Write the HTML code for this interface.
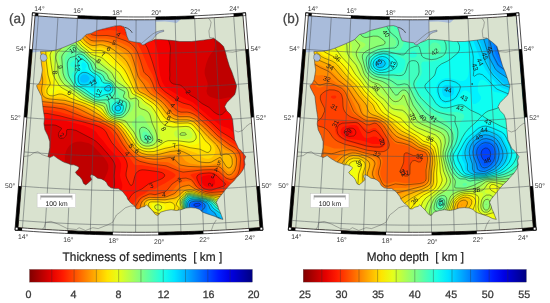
<!DOCTYPE html>
<html><head><meta charset="utf-8"><style>
html,body{margin:0;padding:0;background:#fff;width:550px;height:303px;overflow:hidden}
svg{display:block;font-family:"Liberation Sans",Arial,sans-serif;text-rendering:geometricPrecision}
</style></head><body>
<svg width="550" height="303" viewBox="0 0 550 303">
<rect width="550" height="303" fill="#fff"/>
<clipPath id="clipa"><path d="M35.02 15.73 L37.56 15.92 L42.89 16.32 L48.22 16.69 L53.55 17.05 L58.89 17.38 L64.22 17.69 L69.56 17.98 L74.9 18.25 L80.23 18.49 L85.57 18.72 L90.91 18.92 L96.25 19.1 L101.6 19.26 L106.94 19.4 L112.28 19.52 L117.62 19.62 L122.97 19.69 L128.31 19.75 L133.66 19.78 L139 19.79 L144.34 19.78 L149.69 19.75 L155.03 19.69 L160.38 19.62 L165.72 19.52 L171.06 19.4 L176.4 19.26 L181.75 19.1 L187.09 18.92 L192.43 18.72 L197.77 18.49 L203.1 18.25 L208.44 17.98 L213.78 17.69 L219.11 17.38 L224.45 17.05 L229.78 16.69 L235.11 16.32 L240.44 15.92 L242.98 15.73 L260 227.57 L256.62 227.83 L250.44 228.29 L244.25 228.72 L238.07 229.13 L231.89 229.52 L225.7 229.88 L219.51 230.21 L213.33 230.52 L207.14 230.81 L200.95 231.07 L194.75 231.31 L188.56 231.52 L182.37 231.7 L176.17 231.86 L169.98 232 L163.78 232.11 L157.59 232.2 L151.39 232.26 L145.2 232.3 L139 232.31 L132.8 232.3 L126.61 232.26 L120.41 232.2 L114.22 232.11 L108.02 232 L101.83 231.86 L95.63 231.7 L89.44 231.52 L83.25 231.31 L77.05 231.07 L70.86 230.81 L64.67 230.52 L58.49 230.21 L52.3 229.88 L46.11 229.52 L39.93 229.13 L33.75 228.72 L27.56 228.29 L21.38 227.83 L18 227.57Z"/></clipPath>
<g clip-path="url(#clipa)">
<rect x="0" y="0" width="550" height="303" fill="#8c0000"/>
<path d="M252 226.9 31 226.3 30.7 226 30.3 97 30.3 21 31 20.3 59 20.3 248.5 21 252 25.3 252.9 226 252 226.9Z" fill="#a60000" fill-rule="evenodd"/>
<path d="M252 226.8 31 226.1 30.3 94 30.4 21 31 20.4 59 20.3 224.2 21 227.7 24 232 28.5 236 33.6 239.4 39 242.5 45 247.3 58 252 76.6 252.8 226 252 226.8Z" fill="#bf0000" fill-rule="evenodd"/>
<path d="M252 226.8 188 226.8 73.7 226 80 219.1 85 212.6 90 205 97 193.1 103 182 107 173.2 108.3 169 108.3 165 107 161.7 104 157.5 93 145.7 89 143.3 81 141.6 77 141.7 74 142.6 70 145 68.3 147 66.5 150 65.2 154 64.8 158 65.1 164 64.7 166 63.7 168 62 169.9 58 172.4 55 173.2 52 173.3 49 172.8 45 171.3 42 169.6 38.6 167 31 159.1 30.4 94 30.5 21 31 20.5 59 20.4 182.5 21 193.1 25 199.9 28 205.2 31 210 34.7 212.1 37 214 40 214.9 43 215 46 214.1 50 210 55 207.9 59 206.1 64 204.7 70 204.6 73 204.9 75 207.6 83 207.7 85 206.5 91 207.1 94 208.9 96 210.6 97 217 99.1 221 99.1 228 97.6 233 97.2 236 97.4 239 98.4 242 100.4 245 104 247.5 109 249.3 115 252 129.7 252.8 226 252 226.8Z" fill="#d90000" fill-rule="evenodd"/>
<path d="M252 226.7 189 226.8 97.8 226 101 220.2 104 213.6 114.2 187 114.6 184 114.2 176 115.2 167 114.7 164 113.3 161 108.8 155 100 145 97 142.1 93 139.3 77 130.8 72 129.4 69 129.2 67 129.6 66.6 130 66.6 134 65.8 136 63.7 138 61 138.6 59 137.5 58.3 135 59 132.2 61.5 129 61.4 128 56 125.3 53 124.9 45.2 125 36 127.3 31 127.9 30.5 93 30.6 21 31 20.6 59 20.5 149.9 21 159.1 28 163 32 166.7 37 168.8 41 170 45 170.5 50 170 55 169.7 70 169.9 75 169.6 78 170 80.8 171 82.5 173.5 84 180 85 182 86.1 190 95 195 97.8 202 103.5 209 107.4 213.9 112 216.9 114 219 114.8 221 114.8 223 113.6 227 109.8 228 109.4 230 109.5 232 110.4 235 113.2 238.6 119 243.3 132 249.4 143 252 148.8 252.7 226 252 226.7Z" fill="#f20000" fill-rule="evenodd"/>
<path d="M252 226.7 191 226.7 111.1 226 116 210.9 122.3 187 122.2 184 120.4 178 120 175 121.1 167 121.1 164 120.1 161 118.9 159 107.8 147 103 140.5 98.9 136 96 131.7 92.3 129 84 125.6 66 121.1 59 119.8 46 118 31 118.8 30.6 91 30.7 21 31 20.7 59 20.6 131.3 21 140.2 27 147 32.6 152.7 39 154.5 42 156.1 46 158.2 55 158.7 65 160 75 162.2 82 164.5 86 168 89.1 179.4 96 193 102.4 209.7 117 219 124.3 223 126.6 228 128.1 230 129.2 242 141.3 246.1 147 247.6 150 248.9 154 250.5 166 252 170.8 252.7 226 252 226.7ZM211.9 187 214.3 185 215.1 183 215 180 213.2 177 211 175.5 209 175 203.5 176 201.5 177 200.9 178 201 180.3 202.1 183 204 185.6 207 187.3 210 187.5 211.9 187Z" fill="#ff0d00" fill-rule="evenodd"/>
<path d="M252 226.7 192 226.7 120.5 226 123.5 213 125.3 207 129 198.6 132 194.5 135 192.2 142 188.9 150 183 162 178.6 164.1 177 164.7 176 164.7 175 162.8 173 160 172 145 169.9 142 169.8 140 170.2 138 171.2 136 173.3 134.9 176 133 183.4 132 185.2 131 185.4 130 184.8 127 178.8 126.1 176 126.1 173 127.4 166 127 163 126 160 123 155.3 112.1 143 108.5 137 106.1 132 103.5 129 100 127 95 125 60 115.9 47 113.4 31 113 30.7 89 30.8 21 59 20.7 90.9 21 95 23.6 99 24.4 103 24.1 112 22.6 117 22.8 120 23.6 122.7 25 135 33.5 139 36.7 143.7 42 147.4 48 152.4 62 158.9 84 160 86.4 161.9 89 165 91.7 178.4 101 183 103.1 190 105 192 106.3 211.7 123 221 131.8 229 136.6 238 143.2 241 146.1 243.2 149 245 153 245.8 157 246 169 246.7 175 248.3 178 250 179.5 252 180.5 252.7 226 252 226.7ZM211.7 190 224 186.1 225.2 185 225.3 184 224.9 183 221.2 180 217 175.7 214.2 174 212 173.2 209 172.9 203 173.4 200 173.9 197.8 175 196.7 177 197 179 198.8 183 200.8 186 203.1 188 205 189.1 209 190 211.7 190Z" fill="#ff2600" fill-rule="evenodd"/>
<path d="M252 226.6 193 226.7 128 226 129.1 215 130.6 209 133 204 137.6 198 140 196 144 193.9 149 190.6 150 190.1 155 189.1 159 186.2 165 183.3 173.3 178 175.3 176 175.5 175 174.9 174 172.1 172 168 170.1 164 168.8 141 165.1 135 164.9 133.8 164 129.9 158 122 148 111.5 132 108.7 129 104 125.8 96.5 123 83 119.3 60 111.9 49.9 110 37 109.3 31 108.2 30.9 21 83.9 21 91 28.6 94 30.5 97 31.1 110 30 116 30.5 121.1 34 130 37.7 135 41.3 138 44.8 140.5 49 148.2 67 152.6 75 156.9 87 159.5 91 179 106.8 182 108 190 109.5 196 112.9 210 125 220 135 236 145.5 238.8 148 240.4 150 242.3 154 243.1 159 242.2 171 240.3 180 240.4 182 241.1 183 243.1 184 252 186 252.6 226 252 226.6ZM214.3 191 225 189.3 228 188.5 231 187 232 186 232.4 185 232.1 184 224 179 218 173.5 214 171.7 209 171.2 200 171.9 191.7 174 190.2 175 194 179.2 198.3 186 202 189 204 190.1 207.1 191 211 191.4 214.3 191Z" fill="#ff4000" fill-rule="evenodd"/>
<path d="M233 179.1 230 179.4 227 178.6 224.5 177 219 171.7 215 170 211 169.7 203 169.9 183 172.1 179 171 166 165.8 150 163.8 139 161 135 158.4 127.7 151 122.6 144 117.4 135 113.6 130 111.2 128 106 124.9 99 121.9 83.6 117 64 109.2 54 107.4 38 106.1 34 105.1 31 103.7 31 21.1 78.4 21 83 25.2 89.5 33 92 34.8 96 35.6 106 35.4 113 36.5 125 40.5 131 43.8 134.3 47 137.3 52 140.2 60 143.8 72 145 73.5 148.2 76 150 78.2 152.5 83 154.5 89 156.6 92 166.6 100 175 108.8 178 111.2 181 112.2 187 112.1 190 112.6 193 113.8 196 115.6 207.9 126 218 136 230 145 235 147.9 238 150.9 239.7 154 240.6 158 240.6 161 239.6 169 238.5 173 237 175.7 235 178 233 179.1ZM252 226.6 194 226.6 134.4 226 133.8 217 134 212 134.9 208 136.7 204 139.2 200 142 197.4 149 194.1 151 194 155 194.7 164.8 192 167.3 190 171.1 185 175 182 179 179.6 182 178.4 186 178.1 190 179.1 192 180.3 196 186 199.8 189 203.6 191 207.1 192 212 192.4 218 191.8 226 191.5 240 189.4 252 190 252.6 226 252 226.6Z" fill="#ff5900" fill-rule="evenodd"/>
<path d="M230 177.1 228 177 226 176 220 170 217 168.4 214 168.1 188 168.9 182 168.6 178 167.5 171 163.5 168 162.3 165 161.9 151 161.3 146 160.4 141 158.9 137 156.7 130 150.4 124.5 143 119 133.6 115.3 129 113 127 100 120.5 85 115 74.6 110 66 106.8 55 105 40 103.6 36 102.2 33 100.4 31 98.6 31 28.8 36 24.3 41.6 21 72.3 21 76 23.1 79.7 26 83 29.4 88 35.6 91 37.7 95 38.5 105 38.5 111 39.6 122 43.2 129 47.1 132.8 51 135 55 137.5 63 140.1 75 141.8 77 146.8 81 149 83.5 149.9 85 151.4 90 153.7 93 164.2 101 173 110.9 176 113.3 180 115 187 114.6 190 115 193 116.1 196 117.9 206.2 127 217 137.5 227.7 146 234 149.9 236.1 152 237.7 155 238.6 159 238.4 163 237.4 169 236.2 172 234.1 175 232 176.6 230 177.1ZM252 226.5 195 226.6 140.5 226 137.8 216 137.4 212 137.6 209 138.3 206 140 202 141.4 200 144 198 148 196.2 150 195.8 155 196.5 166 195.2 172 191.4 176.4 186 180 183 186 181.3 189 181.2 191 182.1 193.7 186 197.6 189 203.9 192 208 193 211 193.3 218 193 227 193.4 242 192.7 252 193.2 252.5 226 252 226.5Z" fill="#ff7300" fill-rule="evenodd"/>
<path d="M229 175 227 174.4 221 167.9 218 166.2 200 166.9 188 166.4 180 164.9 174.3 159 171 157.6 169 157.5 160 159 155 159.2 148 158.6 142 157 137 154.3 132 150 126.6 143 120 132.3 116.5 128 114 125.9 108 123.2 100 118.9 93 116 81.2 110 74.2 107 64 104 43 101.7 40.3 101 38 99.8 35 97 33.1 94 31.7 90 31 86.1 31 38.9 33.6 34 36.1 31 39.6 28 43 25.8 47 23.9 51 22.7 56 21.8 61 21.6 65 22 71 23.8 77 27.1 81 30.7 87 37.7 90.2 40 93 40.9 103 40.8 109 41.9 120 46 127 50.2 130 52.8 132 56 138.4 77 143.6 84 146.4 89 149.8 93 158 98.6 162 101.8 165.1 105 170.6 112 174.5 115 177 116.1 180 116.8 187 116.6 190 116.9 195 119.2 198 121.6 215 138.1 225.4 147 232 150.9 234.3 153 235.9 156 236.6 159 236.5 163 235.9 167 234.8 170 233 172.7 231 174.4 229 175ZM252 226.5 196 226.6 146.8 226 142.1 217 140.9 214 140.1 210 140.4 206 141.3 203 142.4 201 144 199.5 147 197.9 150 197.2 156 197.6 166 197 174 193.8 176.2 192 179 188.5 181 187.1 188 185.1 190 185.6 195.3 189 201.8 192 209 193.9 218 194.2 227 195.2 242 195.3 252 196.1 252.5 226 252 226.5Z" fill="#ff8c00" fill-rule="evenodd"/>
<path d="M231 171 229 171.8 227 171.1 221 164.3 219 163.3 216 163.4 209 165 200 165 190 163.4 185.5 161 182.2 157 180 155 177 154.2 170 153.9 161 156.2 155 157 148 156.6 142 155.1 137 152.3 133 148.8 127.9 142 121 131.3 117.4 127 115 125 108 122.1 100 117.2 95 115 84.7 109 75 105 64 102.1 46 100.2 43 99.4 41 98.3 38.4 95 36.9 90 36.8 78 35.4 66 34.3 50 34.3 46 34.8 43 35.9 40 37.5 37 40 34 43 31.4 50 27.5 54.8 26 59 25.3 63 25.2 67 25.6 72 27.1 77 30 80.4 33 86.7 40 90 42.4 94 43.3 102 42.8 107 43.8 114.7 47 122.8 52 127 55.2 129 58 131.2 63 136.4 78 140 85 140.6 88 141.8 90 150 95.8 156 99.3 159.5 102 163.3 106 169 113.4 172.2 116 176 117.7 179 118.4 187 118.3 190 118.7 193 119.8 194.9 121 203.3 129 210 136 219 144 223 148.4 225.2 150 230 152.1 232.4 154 233.7 156 234.3 158 234.6 163 233.4 168 231 171ZM252 226.5 196 226.5 153.4 226 151.2 222 146 216.4 144 213.5 142.4 209 142.3 205 142.9 203 144.2 201 148 198.8 151 198.3 156 198.7 165 198.5 174 196.3 177 194.8 182 190 185 188.8 189 188.4 192 188.7 202.4 193 210 194.7 217 195.1 227 196.7 242 197.6 252 198.8 252.5 226 252 226.5Z" fill="#ffa600" fill-rule="evenodd"/>
<path d="M229 168 228 167.8 226 166.2 221 158.1 220 157.2 211.4 162 209 162.6 206 162.6 201 162.1 197.7 161 194.4 159 189.9 155 183.8 152 180 150.8 177 150.7 170 151.6 159 154.3 154 155 147 154.7 142 153.4 138 151.3 134 147.9 129.6 142 123 131.8 118 126 115.2 124 107 120.5 100 115.5 91.1 110 84 106.4 75 103.2 65 100.4 49 98.9 46 98 44.2 97 42.6 95 41.6 91 41.7 88 42.6 83 42.7 79 40.2 65 39.7 57 38.7 49 39.1 44 41 39.9 43 37.4 45.7 35 49 32.8 53 30.8 60 28.6 64 28.3 67 28.5 72 29.8 77 32.5 80 35.1 86 41.8 90 44.7 92 45.4 94 45.6 100 44.7 103 45.1 108.4 47 113.9 50 123.7 58 127 62.1 130 68 136.2 84 137.7 89 138.9 91 140.1 92 145 94.3 156.8 102 160.9 106 167.8 115 171 117.4 174.5 119 178 119.9 187 119.8 190 120.3 193 121.5 195.1 123 208 136.6 216.7 145 219.6 150 220.4 153 220.4 155 221 155.7 223 154.6 226 154.1 229 154.6 230.8 156 232.1 159 232.3 164 231 167.1 229 168ZM252 226.4 197 226.5 159.5 226 158.6 223 157 220.6 155.2 219 149 214.8 146 211.3 144.4 208 144.2 204 145 202.1 146 201.1 149 199.7 151 199.4 165 199.8 175 198 178 196.3 184 190.8 186 190.2 190 189.7 193 190.2 203.6 194 209 195.2 217 196 226 198.1 242 199.7 252 201.2 252.4 226 252 226.4Z" fill="#ffbf00" fill-rule="evenodd"/>
<path d="M211 158 208 159 205 158.6 203 157.7 199.9 155 195.9 153 183 148.4 180 147.7 176 148.1 154 153.2 147 153.2 142 151.9 138 149.7 135 147 124 131 119 125.4 116 123.4 110 121.1 107 119.4 100 113.6 93.3 109 85 105 69.5 100 64 97.8 61 97.4 52 97.6 49 97.1 47 96.2 45.3 94 44.8 91 44.9 89 46.6 84 46.8 82 45 70 44.9 65 43.6 60 42.5 50 42.7 46 44 42.9 46 40.5 48.9 38 56 33.6 62 31.5 68 31.2 73 32.5 77 34.7 80 37.4 85 43.1 88 45.5 91 47.3 94 48 100 47.2 102 47.4 106.2 49 111 51.7 122 61.9 126 66.8 128.3 71 131.3 78 135.8 90 137.4 92 144 95.5 155.5 103 159.3 107 166 116 169 118.4 173 120.3 177 121.4 180 121.6 187 121.4 190 121.8 193 123.2 196.1 126 206.5 138 212.8 144 214.7 147 215.4 150 214.9 153 213.3 156 211 158ZM252 226.4 198 226.5 164.8 226 164.6 223 163.3 220 159.3 217 152 213.5 150 212 146.9 208 146.1 206 146.1 204 147.2 202 150 200.6 165 201.1 170 200.3 175 200.2 177 199.1 185 191.6 189 190.6 192 190.8 204 194.7 210 196 216 196.7 224 199.1 242 201.7 252 203.6 252.4 226 252 226.4Z" fill="#ffd900" fill-rule="evenodd"/>
<path d="M209 152.1 207 152.5 200 149.2 190 147.7 180 145 177 145.4 171 147.1 165 148.3 154 151.5 148 151.8 143 150.8 139 148.9 135.8 146 125.5 131 120.2 125 117.2 123 111 120.6 107.9 119 100 111.5 95.1 108 86 103.9 70.2 98 66 95.6 62 94.1 59 94 53 95.9 50 95.7 48.5 95 47 93 46.9 90 47.7 88 50 85 50.3 83 48 75 46 59 45.8 50 46.1 48 47 45.8 49 43.5 53.1 40 59 35.9 64.1 34 67 33.6 70 33.8 74 35 77 36.8 84.9 45 92 50 95 50.7 100 50.4 102 50.7 105 51.8 108 53.5 110 55 122 66.9 124.5 70 126.8 74 135 92 143 96.4 154 103.9 157.8 108 164.1 117 168 120.2 175 122.7 179 123.2 188 122.9 191 123.7 193 125.1 200.1 133 205 140.5 210 145.1 210.8 147 210.8 149 210.1 151 209 152.1ZM252 226.3 199 226.5 169.1 226 171.4 215 171 214.1 165 214.7 162 214.6 154 212.1 152.2 211 150.5 209 148.7 206 148.4 204 149 202.9 150 202.1 151 201.9 159 201.9 165 202.8 170 202.1 171 202.4 172.5 203 174.8 205 174.8 208 173 212 174 212.6 177 211.4 179.1 209 179 207.7 176.5 205 176.3 204 177.5 201 179.8 198 185 192.6 188 191.5 192 191.5 203.1 195 216 197.6 224 200.4 241 203.4 252 205.9 252.3 226 252 226.3Z" fill="#fff200" fill-rule="evenodd"/>
<path d="M152 150.2 148 150.3 145 150 142 149.1 139 147.3 135.7 144 128.6 133 122 125 118 122.3 111 119.7 108 118.1 100.7 110 96.3 107 79 100 67 93 60 90 57 89.9 54 93 52 93.9 50 93.7 49.1 93 48.7 92 49.1 90 51 88.3 54.2 87 54.9 86 54.9 85 50.1 75 48 57 48.1 53 48.9 50 50.1 48 58 40.4 61.3 38 65 36.4 69 35.9 73 36.5 77.4 39 82.8 45 92 52.4 95 53.3 101 53.9 105.4 56 108 58.1 112.6 63 119.7 69 122.4 72 130 85 132.7 91 134 93 141.6 97 152.7 105 156.1 109 161.9 118 164 120.4 168 122.7 175 124.7 179 125 187 124.5 190 125 192.8 127 195.5 130 198.3 134 199.7 137 200.1 140 199.6 142 198 143.5 195 144.7 190 145 181 143.1 177 143.1 170 145 165 145.7 156 149.2 152 150.2ZM252 226.3 200 226.4 172.5 226 175.1 219 180 211.2 180.9 209 181 208 179.4 205 178.8 203 179.6 200 185 193.5 187 192.4 190 192 193 192.4 203 195.5 214 197.8 224 201.6 239.9 205 252 208.2 252.3 226 252 226.3ZM163 211.3 160 212 155 210.7 154 210 152.4 208 151.5 205 152.3 204 153 203.7 157 203.1 160 203.4 163 204.5 164.9 206 165.2 207 164.4 210 163 211.3Z" fill="#f2ff0d" fill-rule="evenodd"/>
<path d="M154 148.1 150 148.9 146 148.8 143 148.1 140 146.6 136.6 143 131.8 135 128.9 131 124.9 126 122 123.3 119.7 122 112 119.3 109 117.8 106.1 115 102 109.1 100 107.5 95 105 80 99 73 93.9 62.2 88 59.5 86 55.1 79 52.7 74 51.1 64 50 55 51 52.2 52.4 50 60.5 42 64 39.6 68 38.1 72 38.1 76 39.7 78 41.3 81.9 46 87.1 50 91 53.9 93 55 100 56.9 103 58.5 110 65 117.4 71 120.1 74 124.4 81 129 86.6 132 92.9 132.9 94 140.9 98 145 102 151.1 106 154.8 111 160.4 121 164 124.8 167 126.2 173 127.1 186 126.4 189 126.8 191 128 193 130 195 133 195.9 135 196.3 137 195.9 139 194 141 192 141.8 189 142.2 177 140.7 168 140.7 165 141.7 158.5 146 154 148.1ZM252 226.2 201 226.4 175.3 226 177.2 220 181 211.6 181.8 209 181.9 208 180 203 180.6 200 185.4 194 187 193.1 190 192.6 192 192.8 203 196 213 198.1 222 202.2 240 206.8 252 210.5 252 226.2ZM159 210.2 157 209.9 155.6 209 154.5 207 155 205.6 156 205 158 204.7 159.6 205 161.2 206 161.7 207 161.3 209 160 209.9 159 210.2Z" fill="#d9ff26" fill-rule="evenodd"/>
<path d="M152 147 149 147.5 146 147.4 143 146.7 141 145.7 138.2 143 132.4 133 124.3 123 121 121.3 113 118.9 110 117.5 107.2 115 103.1 108 102 107 92 103 81.2 98 74.9 93 64 86.6 61 84 57.8 79 55.8 74 55.2 71 54.9 65 53.3 60 52.9 56 53.4 54 55.1 51 62.1 44 66 41.2 69 40.1 73 40 76 41.3 78 43.1 80.1 46 86.5 51 90.1 55 100 60.2 113 70.7 115.9 74 119.5 80 128 87.9 129.2 90 131.1 95 132.4 96 137 97.2 139.9 99 143.1 104 148 106.9 150 108.6 153.4 114 158.7 127 159.6 130 160.5 138 159.9 141 158.5 143 156 145.2 152 147ZM189 139.1 186 139.3 182.2 139 177 137.7 175.8 137 174.3 135 174.1 133 174.4 132 175.3 131 177 130.1 181.4 129 186 128.7 189 129.6 191.4 132 192.6 135 192 137.3 191 138.3 189 139.1ZM252 226.2 203 226.4 177.6 226 182.4 209 182.2 207 180.9 203 181 201 182 199 185.2 195 187 193.7 189 193.2 192 193.4 213 198.7 221 203 238.3 208 252 212.8 252 226.2Z" fill="#bfff40" fill-rule="evenodd"/>
<path d="M149 146.1 146 146.1 144 145.6 142 144.7 140 143.1 137.9 140 133.9 132 129.1 126 126 121.4 124 120.5 114 118.4 110 116.6 107.5 114 104.3 107 103.4 106 93 102.4 83 97.5 75.8 92 65 85 63 83 60.3 79 58.6 75 58 72 57.6 65 56 59 55.8 57 56.4 54 57.6 52 64 45.6 67.6 43 71 41.7 74 41.9 76 42.8 80 47.5 86 51.9 90 56.3 97 61 110.8 72 112.3 74 114.3 78 117.2 82 125 87.2 127 89 128.4 92 128.9 97 130 98.7 131 99 135 98 137 98.9 138.2 100 138.8 102 138.5 105 139 107.1 141 108.6 145 110 146.8 111 148.8 113 150 115 152.1 123 155.3 130 156.9 135 157.4 139 156.4 142 155 143.6 153 145 149 146.1ZM185 135.2 181 135.3 180.2 135 179.9 134 180.9 133 182 132.7 185 132.8 186.4 134 185.7 135 185 135.2ZM252 226.2 204 226.3 179.6 226 183 209 181.6 203 181.8 201 182.7 199 185.9 195 187 194.2 189 193.7 192 194 213 199.3 218 202.6 221 204.1 238 209.6 252 215.2 252 226.2Z" fill="#a6ff59" fill-rule="evenodd"/>
<path d="M124 118.3 121 118.7 118 118.5 114 117.5 110.6 116 109.3 115 108 113 104.9 105 103 104.1 94 101.9 84 96.6 72 88.1 64.9 82 62.3 78 60.7 74 60 65 58.6 57 58.9 55 59.9 53 66 47.1 70 44.3 72 43.4 74 43.4 76 44.4 79 48.2 85 52.4 89 56.7 94.2 61 99 66.6 105 70 107.7 72 110 75 110.9 78 114 80.9 117 84.9 124 88.6 126 90.2 126.8 92 126.3 96 126.4 97 127.1 98 130 100.8 133.3 102 134 103 133.1 108 131.6 111 126.1 117 124 118.3ZM151 144.1 148 144.7 145 144.5 143 143.7 141 142.1 139.1 139 135.7 130 132 124.8 131.7 123 132 122 139 115.4 141 115.2 142.6 116 144 117.3 147.6 124 151.8 130 154 134.5 154.9 137 154.9 140 154 142 153 143 151 144.1ZM252 226.1 206 226.3 181.4 226 183.4 210 183.4 208 182.2 203 182.4 201 183.4 199 186 195.6 187 194.8 189 194.2 192 194.5 212 199.6 214 200.5 217 202.9 220 204.7 237.2 211 252 217.7 252 226.1Z" fill="#8cff73" fill-rule="evenodd"/>
<path d="M122 117.3 120 117.6 117 117.4 114 116.6 111 115.2 109 113 107.8 110 106.5 105 105 103.3 95 101.4 85.2 96 80 92 73.6 88 66 80 64.3 77 63 73 61.7 57 62.4 55 63.8 53 66.7 50 71.4 46 73 45.2 75 45.4 79 50 85 53.7 93.1 62 94.5 64 96.2 68 97.5 69 103 71.1 105.8 73 107.3 75 109 79 113 81.7 116 86.1 119 88.7 123.9 91 124.8 92 124.7 93 123.4 96 123.5 97 124 98 127 99.7 128.3 101 129.6 103 130 106 129.3 109 127.8 112 124.3 116 122 117.3ZM149 143.1 146 143.2 144 142.5 142.1 141 141 139.3 140.3 137 139.5 131 139.9 129 141 127.7 142 127.3 144 127.2 147 128.7 149.2 131 152.2 136 152.9 139 152.4 141 151 142.3 149 143.1ZM252 226.1 183.1 226 183.9 210 182.8 203 183 201 184 199 186 196.4 187 195.4 189 194.7 191 194.9 200 196.9 211 199.7 213.7 201 217 203.9 220 205.8 235.5 212 252 220.4 252 226.1Z" fill="#73ff8c" fill-rule="evenodd"/>
<path d="M121 116.3 117 116.5 112 114.7 111 114 109.6 112 108.6 109 107.6 104 106 102 104 101.4 97 101 93.8 100 74 87 67.8 79 66.3 76 65.3 72 64.8 62 64.9 59 65.5 57 67.4 54 73 48.9 74 48.6 76.7 51 82 53 85 55 92.1 63 95 69.9 101 72.1 104.1 74 105 75 106.7 79 111.8 82 113 83.2 116.5 89 118.5 95 119.8 97 122.2 99 126 100.4 127 101.2 127.9 103 128.1 105 127 110 126 112 124 114.5 121 116.3ZM149 141.2 146 141.4 144 140.4 143 139.3 142.1 136 142.2 134 143.1 132 144 131.5 146 131.7 148 133.2 149 134.6 150.4 137 150.8 139 150.5 140 149 141.2ZM252 226 184.8 226 184.4 210 183.3 203 183.6 201 186.1 197 187.1 196 189 195.3 200 197.3 210.3 200 213 201.3 217 205 219 206.3 235.9 214 252 223.2 252 226Z" fill="#59ffa6" fill-rule="evenodd"/>
<path d="M121 115.2 119 115.6 116 115.3 113 114.1 111.6 113 110 110 109.1 103 108 100.2 106 99.8 99 100.2 95 99.6 74.5 86 69.2 77 68.2 74 67.3 66 67.3 63 68.2 60 70 57.6 75 56.2 78 54.2 79 53.9 81 54.2 83 55.1 85 56.8 90.5 63 92.8 69 94 70.6 101.2 74 103.2 76 105.1 80 110 82 112 83.2 114.7 88 115.2 91 114.5 94 111.9 98 114 99 117 98.3 118 98.4 121 100.1 125 101.5 125.7 102 126.2 103 126.4 106 125.2 111 123 114 121 115.2ZM147 139.2 146 139.1 145 138.2 144.6 137 145 135.6 146 135.2 147 135.5 148.2 137 148 138.6 147 139.2ZM251 226 186.5 226 183.9 203 184.2 201 186.8 197 188 196.1 189 195.8 200 197.7 208.9 200 212.9 202 218 206.8 234.3 215 251.5 226 251 226Z" fill="#40ffbf" fill-rule="evenodd"/>
<path d="M99 99 96 98.7 94.4 98 84 90.6 77 86.7 75 85 74.4 84 71.6 75 72.2 73 74.8 70 74.7 69 74 68 71 66.4 70.2 65 70.9 63 71.9 62 79 56.4 81 56.1 84 57.7 89 63 91.2 69 92.6 71 100 75 101.7 77 104 81.1 105 81.7 110.4 83 111.7 84 112.9 86 113.7 88 113.9 90 113.5 92 112 94.1 110 95.5 107 96.8 101 98.7 99 99ZM121 114 119 114.6 116 114.3 113.3 113 112 111.6 110.9 109 110.9 106 111.9 103 113.1 102 116 100.6 118 100.1 123 102.6 124.4 104 124.8 107 124.3 110 123 112.4 121 114ZM246 226 188.2 226 186.5 218 184.5 204 184.8 201 187 197.6 188 196.8 190 196.4 200 198.1 209 200.6 212 202.2 216 206.5 218 208 227.8 213 232.8 216 246.9 226 246 226Z" fill="#26ffd9" fill-rule="evenodd"/>
<path d="M99 97.1 97 97.1 95 96.4 89.6 93 85 89.4 78 86.1 76 84 75.1 81 74.7 76 75.4 74 78.1 70 78.4 68 77.7 63 78.4 61 80 59.4 81 59 83 59.4 86.5 62 88 64 89.4 69 90.8 71 93 72.8 96 74.2 98.7 76 100.3 78 102 81.5 103 82.6 105 83.2 108 83.2 110 83.6 111 84.3 112.1 86 112.8 88 112.9 90 112 92 111 93 109 94 104 95 99 97.1ZM120 113.2 117 113.4 115 112.7 113.1 111 112.2 109 112.2 107 113 105 115 103.1 117 102 119 102.2 121 103.2 122.9 105 123.3 106 123.3 109 122.6 111 122 112 120 113.2ZM242 226 190.1 226 186.7 214 185 204 185.4 201 188 197.6 190 197 200 198.5 208.7 201 211.8 203 216.3 208 229.8 216 242.6 226 242 226Z" fill="#0dfff2" fill-rule="evenodd"/>
<path d="M94 92 91 91 88.7 89 87 88 80 85.9 78.6 85 77.1 83 76.5 79 76.8 76 78.5 73 82.5 69 81.5 66 81.4 64 82 62.8 83 62.3 85 62.9 86.5 65 86.4 67 85 69 91 73.1 96.2 76 97.9 78 98.9 80 99.9 85 96.4 87 95.9 88 95.5 91 95 91.9 94 92ZM110 92 107 92.7 103 91.2 101.5 89 100.8 87 101 86 107 84.4 110 84.5 111.2 86 111.9 89 111.3 91 110 92ZM119 112.3 116 111.9 114.8 111 113.7 109 113.7 107 114.2 106 115.1 105 117 103.8 118 103.6 120 104.3 121 105.1 122.1 107 121.8 110 121 111.2 119 112.3ZM238 226 192.3 226 189 218.6 187 212 186 208 185.6 204 186 201 188 198.5 190 197.7 200 199 208 201.3 210.7 203 215 208.3 228.3 217 238.6 226 238 226Z" fill="#00f2ff" fill-rule="evenodd"/>
<path d="M85 85 82 84.9 80 84.1 79 83 78.2 81 78.1 78 79 75.3 81 73.2 83 72.4 86 72.5 88 73.2 93.9 77 95 79 95 80 94.3 81 92.9 82 88 84.5 85 85ZM109 91 107.4 91 106 90.5 105.1 90 104.6 89 104.7 88 105.3 87 108 85.5 109 85.4 110 85.9 110.8 88 110.5 90 109 91ZM120 110.2 118 111 115.8 110 115.1 108 116 106.2 118 105.3 120 106.2 120.8 108 120 110.2ZM234 226 194.9 226 190 217.7 188 212.9 186.6 208 186.3 205 186.2 203 186.8 201 188.6 199 191 198.4 200 199.4 208 201.9 210.4 204 213 208 225.5 217 234.6 226 234 226Z" fill="#00d9ff" fill-rule="evenodd"/>
<path d="M86 82.4 84 82.8 82 82.6 81 82 80.4 81 80 79 80.4 77 81 75.9 83 74.5 85 74.2 87 74.9 88.3 76 89.6 78 89.1 80 88 81.2 86 82.4ZM118 108.9 117.3 108 118 107.5 118.6 108 118 108.9ZM230 226 198.5 226 192 218.3 189 213.2 187 206.5 186.9 203 187.7 201 189 199.7 192 199.1 200 199.8 207 202.1 209.2 204 212.2 209 223.7 218 230.6 226 230 226Z" fill="#00bfff" fill-rule="evenodd"/>
<path d="M225 226 205.5 226 203.1 224 195 218.6 191 214.5 190 213 188 208 187.6 204 188 202 189 200.8 191 199.9 197 200 201 200.6 207 203 208.5 205 210.1 209 212 210.9 214.9 213 217 217 219.8 218 221 219.1 225.7 226 225 226Z" fill="#00a6ff" fill-rule="evenodd"/>
<path d="M202 216.2 199 216.9 196 216.2 193 214.3 191 212.2 189 208.4 188.5 206 188.7 203 190 201.3 193 200.5 200 200.8 203.2 202 206.4 204 207.2 206 207.4 212 207 212.9 205 213.3 202 216.2ZM210 214.1 209 214.6 207.8 214 207.1 213 208 212.6 209 212.8 209.5 213 210 214.1Z" fill="#008cff" fill-rule="evenodd"/>
<path d="M197 213.1 195 212.8 193 211.8 191 209.7 190 208 189.5 206 189.6 204 190 202.9 191 202 195 201.2 200 201.4 203.3 203 205.1 205 205 207 203.7 209 199 212.6 197 213.1Z" fill="#0073ff" fill-rule="evenodd"/>
<path d="M198 209.1 195 209.5 193 208.8 192 208.1 191 206.2 190.9 205 191.1 204 192 203 195 202 198 201.9 200 202.1 201.6 203 203 205 202.9 206 202 207.1 198 209.1Z" fill="#0059ff" fill-rule="evenodd"/>
<path d="M199 206 196 206.5 194.4 206 193.7 205 194.3 204 195 203.7 199 203.2 200.2 204 200.3 205 199 206Z" fill="#0040ff" fill-rule="evenodd"/>
<path d="M223 20 228.7 25 233.3 30 237.6 36 241.5 43 244.6 50 247 57 253 80.5M148.3 20 156 25.4 162.1 31 166.7 37 169.2 42 170.2 46 170.5 49 170 55 169.7 70 169.9 75 169.6 79 170.1 81 171 82.5 173.5 84 180 85 182 86.1 190 95 195 97.8 202 103.5 209 107.4 213.9 112 217 114 219 114.8 221 114.8 222.5 114 226 110.6 228 109.4 230 109.5 233 111.2 236 114.4 238 117.7 242.8 131 250.4 145 253 151.7M97.2 227 101 220.2 104 213.6 114.2 187 114.6 184 114.2 176 115.1 166 114.3 163 112.6 160 107.9 154 100.9 146 96 141.3 93 139.3 76 130.4 71 129.3 67 129.6 66.6 130 66.6 134 65.8 136 63.7 138 61 138.6 59 137.5 58.3 135 59 132.2 61.5 129 61.4 128 56 125.3 53 124.9 45.2 125 36 127.3 30 128M89.8 20 94 23.1 98 24.3 102 24.2 113 22.6 116 22.6 119 23.2 123 25.2 135 33.5 140 37.7 144.5 43 147.4 48 152.4 62 158.9 84 161.1 88 165 91.7 178 100.8 183 103.1 190 105 192 106.3 211.7 123 221 131.8 230 137.3 237 142.4 240 145 243.7 150 245.5 155 246 159 246 170 247 175.8 249 178.8 253 180.9M120.3 227 125 208 128 200.6 131 195.7 134 192.8 141.8 189 149 183.6 160 179.6 163 178 164.7 176 164.7 175 164.1 174 162 172.6 159 171.8 145 169.9 142 169.8 140 170.2 138 171.2 136 173.3 134.9 176 133 183.4 132 185.2 131 185.4 130 184.8 127 178.8 126.1 176 126.1 173 127.4 166 127 163 126 160 123 155.3 112.1 143 108.5 137 106.1 132 103.5 129 100 127 95 125 60 115.9 47 113.4 35 113.3 30 112.8M211.7 190 224 186.1 225.2 185 225.3 184 224.9 183 221.2 180 217 175.7 214.2 174 212 173.2 209 172.9 203 173.4 200 173.9 197.8 175 196.7 177 197 179 198.8 183 200.8 186 203.1 188 205 189.1 209 190 211.7 190ZM77.1 20 82 24.2 89 32.5 92 34.8 97 35.7 107 35.5 114 36.7 126 40.9 129.9 43 132.4 45 135 48 137.3 52 140.2 60 143.8 72 145 73.5 148.2 76 150 78.2 152.5 83 154.5 89 156.6 92 166.6 100 175 108.8 178 111.2 181 112.2 187 112.1 190 112.6 193 113.8 196 115.6 207.9 126 218 136 230 145 235 147.9 237.3 150 239.7 154 240.7 159 239.6 169 238 174.1 236 177 234 178.7 232 179.3 230 179.4 226 178.1 219 171.7 215 170 211 169.7 203 169.9 183 172.1 179 171 166 165.8 150 163.8 140 161.4 136 159.3 127.7 151 122.6 144 117.4 135 113.6 130 111.2 128 105 124.4 98 121.5 83.6 117 64 109.2 54 107.4 38 106.1 34 105.1 30 103.2M134.5 227 133.8 217 134.2 211 135.7 206 140 199 142.7 197 149 194.1 151 194 155 194.7 165 191.9 167.3 190 172.1 184 177 180.7 182 178.4 186 178.1 191 179.6 193 181.4 196 186 198.3 188 203.6 191 208 192.1 212 192.4 227 191.4 240 189.4 253 190.1M30 41.9 31.4 38 34 33.5 37.1 30 41 27 46 24.4 51 22.7 57 21.7 62 21.7 69 23 73 24.7 76 26.4 81 30.7 87.4 38 91 40.4 94 41 103 40.8 108 41.6 117.8 45 125 48.8 129 51.8 131.5 55 133.7 61 138 76.2 139.7 79 143.6 84 146.4 89 148.8 92 150.9 94 158 98.6 162 101.8 165.1 105 170.6 112 174 114.7 179 116.7 187 116.6 190 116.9 195 119.2 204.7 128 212.6 136 225 146.7 233 151.7 235.5 155 236.6 159 236.3 165 234.8 170 233 172.7 231.6 174 230 174.8 228 174.9 226 173.5 221 167.9 218 166.2 200 166.9 188 166.4 180 164.9 174.3 159 171 157.6 169 157.5 160 159 154 159.2 146 158.2 140 156.2 135 152.8 131.1 149 126.6 143 120 132.3 116.5 128 114 125.9 108 123.2 100 118.9 93 116 81.2 110 74.2 107 64 104 42 101.5 39 100.4 37 99 33.7 95 31.7 90 30.9 85 30 70.8M147.1 227 145.9 224 142 216.9 140.4 212 140.1 209 140.4 206 141.3 203 142.4 201 145 198.9 149 197.3 156 197.6 165 197.2 167 196.6 174 193.8 176 192.2 179.6 188 183 186.4 189 185.1 195.3 189 201.8 192 205 193.1 210 194.1 218 194.2 228 195.2 243 195.4 253 196.2M229 168 228 167.8 226 166.2 221 158.1 220 157.2 211.4 162 209 162.6 206 162.6 201 162.1 197.7 161 194.4 159 189.9 155 183.8 152 180 150.8 177 150.7 170 151.6 159 154.3 154 155 147 154.7 142 153.4 138 151.3 134 147.9 129.6 142 123 131.8 118 126 115.2 124 107 120.5 100 115.5 91.1 110 84 106.4 75 103.2 65 100.4 49 98.9 46 98 44.2 97 42.6 95 41.6 91 41.7 88 42.6 83 42.7 79 40.2 65 39.7 57 38.7 49 39.1 44 41 39.9 43 37.4 45.7 35 49 32.8 53 30.8 60 28.6 64 28.3 67 28.5 72 29.8 77 32.5 80 35.1 86 41.8 90 44.7 92 45.4 94 45.6 100 44.7 103 45.1 108.4 47 113.9 50 123.7 58 127 62.1 130 68 136.2 84 137.7 89 138.9 91 140.1 92 145 94.3 156.8 102 160.9 106 167.8 115 171 117.4 174.5 119 178 119.9 187 119.8 190 120.3 193 121.5 195.1 123 208 136.6 216.7 145 219.6 150 220.4 153 220.4 155 221 155.7 223 154.6 226 154.1 229 154.6 230.8 156 232.1 159 232.3 164 231 167.1 229 168ZM159.6 227 159.1 224 157.3 221 155.2 219 149 214.8 147 212.7 145 209.5 144.1 206 144.5 203 146 201.1 148 200 151 199.4 165 199.8 174 198.3 176 197.6 178 196.3 184 190.8 186 190.2 190 189.7 193 190.2 203.6 194 209 195.2 217 196 226 198.1 242 199.7 253 201.4M209 152.1 207 152.5 200 149.2 190 147.7 180 145 177 145.4 171 147.1 165 148.3 154 151.5 148 151.8 143 150.8 139 148.9 135.8 146 125.5 131 120.2 125 117.2 123 111 120.6 107.9 119 100 111.5 95.1 108 86 103.9 70.2 98 66 95.6 62 94.1 59 94 53 95.9 50 95.7 48.5 95 47 93 46.9 90 47.7 88 50 85 50.3 83 48 75 46 59 45.8 50 46.1 48 47 45.8 49 43.5 53.1 40 59 35.9 64.1 34 67 33.6 70 33.8 74 35 77 36.8 84.9 45 92 50 95 50.7 100 50.4 102 50.7 105 51.8 108 53.5 110 55 122 66.9 124.5 70 126.8 74 135 92 143 96.4 154 103.9 157.8 108 164.1 117 168 120.2 175 122.7 179 123.2 188 122.9 191 123.7 193 125.1 200.1 133 205 140.5 210 145.1 210.8 147 210.8 149 210.1 151 209 152.1ZM168.9 227 171.4 215 171 214.1 165 214.7 162 214.6 154 212.1 151.3 210 148.7 206 148.4 204 149 202.9 150 202.1 152 201.9 159 201.9 165 202.8 170 202.1 171 202.4 172.5 203 174.8 205 174.8 208 173 212 174 212.6 177 211.4 179.1 209 179 207.7 176.5 205 176.3 204 178.2 200 185 192.6 187 191.7 190 191.3 193 191.8 203.1 195 215 197.3 224 200.4 241 203.4 253 206.2M154 148.1 150 148.9 146 148.8 143 148.1 140 146.6 136.6 143 131.8 135 128.9 131 124.9 126 122 123.3 119.7 122 112 119.3 109 117.8 106.1 115 102 109.1 100 107.5 95 105 80 99 73 93.9 62.2 88 59.5 86 55.1 79 52.7 74 51.1 64 50 55 51 52.2 52.4 50 60.5 42 64 39.6 68 38.1 72 38.1 76 39.7 78 41.3 81.9 46 87.1 50 91 53.9 93 55 100 56.9 103 58.5 110 65 117.4 71 120.1 74 124.4 81 129 86.6 132 92.9 132.9 94 140.9 98 145 102 151.1 106 154.8 111 160.4 121 164 124.8 167 126.2 173 127.1 186 126.4 189 126.8 191 128 193 130 195 133 195.9 135 196.3 137 195.9 139 194 141 192 141.8 189 142.2 177 140.7 168 140.7 165 141.7 158.5 146 154 148.1ZM175 227 177.2 220 181 211.6 181.8 209 181.9 208 180.2 204 180.2 201 181.2 199 185 194.3 188 192.8 192 192.8 203 196 213 198.1 222 202.2 240 206.8 253 210.9M159 210.2 157 209.9 155.6 209 154.5 207 155 205.6 156 205 158 204.7 159.6 205 161.2 206 161.7 207 161.3 209 160 209.9 159 210.2ZM149 146.1 146 146.1 144 145.6 142 144.7 140 143.1 137.9 140 133.9 132 129.1 126 126 121.4 124 120.5 114 118.4 110 116.6 107.5 114 104.3 107 103.4 106 93 102.4 83 97.5 75.8 92 65 85 63 83 60.3 79 58.6 75 58 72 57.6 65 56 59 55.8 57 56.4 54 57.6 52 64 45.6 67.6 43 71 41.7 74 41.9 76 42.8 80 47.5 86 51.9 90 56.3 97 61 110.8 72 112.3 74 114.3 78 117.2 82 125 87.2 127 89 128.4 92 128.9 97 130 98.7 131 99 135 98 137 98.9 138.2 100 138.8 102 138.5 105 139 107.1 141 108.6 145 110 146.8 111 148.8 113 150 115 152.1 123 155.3 130 156.9 135 157.4 139 156.4 142 155 143.6 153 145 149 146.1ZM185 135.2 181 135.3 180.2 135 179.9 134 180.9 133 182 132.7 185 132.8 186.4 134 185.7 135 185 135.2ZM179.4 227 183 209 181.6 203 181.8 201 182.7 199 185.9 195 187 194.2 189 193.7 192 194 212 199 214.4 200 218 202.6 221 204.1 238 209.6 253 215.7M122 117.3 120 117.6 117 117.4 114 116.6 111 115.2 109 113 107.8 110 106.5 105 105 103.3 95 101.4 85.2 96 80 92 73.6 88 66 80 64.3 77 63 73 61.7 57 62.4 55 63.8 53 66.7 50 71.4 46 73 45.2 75 45.4 79 50 85 53.7 93.1 62 94.5 64 96.2 68 97.5 69 103 71.1 105.8 73 107.3 75 109 79 113 81.7 116 86.1 119 88.7 123.9 91 124.8 92 124.7 93 123.4 96 123.5 97 124 98 127 99.7 128.3 101 129.6 103 130 106 129.3 109 127.8 112 124.3 116 122 117.3ZM149 143.1 146 143.2 144 142.5 142.1 141 141 139.3 140.3 137 139.5 131 139.9 129 141 127.7 142 127.3 144 127.2 147 128.7 149.2 131 152.2 136 152.9 139 152.4 141 151 142.3 149 143.1ZM183.1 227 183.9 210 182.8 202 183.4 200 186 196.4 187 195.4 189 194.7 191 194.9 200 196.9 211.7 200 213.7 201 217 203.9 220 205.8 235.5 212 253 220.9M121 115.2 119 115.6 116 115.3 113 114.1 111.6 113 110 110 109.1 103 108 100.2 106 99.8 99 100.2 95 99.6 74.5 86 69.2 77 68.2 74 67.3 66 67.3 63 68.2 60 70 57.6 75 56.2 78 54.2 79 53.9 81 54.2 83 55.1 85 56.8 90.5 63 92.8 69 94 70.6 101.2 74 103.2 76 105.1 80 110 82 112 83.2 114.7 88 115.2 91 114.5 94 111.9 98 114 99 117 98.3 118 98.4 121 100.1 125 101.5 125.7 102 126.2 103 126.4 106 125.2 111 123 114 121 115.2ZM147 139.2 146 139.1 145 138.2 144.6 137 145 135.6 146 135.2 147 135.5 148.2 137 148 138.6 147 139.2ZM186.6 227 183.9 202 184.6 200 187 196.8 188 196.1 190 195.8 205.4 199 211.2 201 213 202 218 206.8 234.3 215 253 227M99 97.1 97 97.1 95 96.4 89.6 93 85 89.4 78 86.1 76 84 75.1 81 74.7 76 75.4 74 78.1 70 78.4 68 77.7 63 78.4 61 80 59.4 81 59 83 59.4 86.5 62 88 64 89.4 69 90.8 71 93 72.8 96 74.2 98.7 76 100.3 78 102 81.5 103 82.6 105 83.2 108 83.2 110 83.6 111 84.3 112.1 86 112.8 88 112.9 90 112 92 111 93 109 94 104 95 99 97.1ZM120 113.2 117 113.4 115 112.7 113.1 111 112.2 109 112.2 107 113 105 115 103.1 117 102 119 102.2 121 103.2 122.9 105 123.3 106 123.3 109 122.6 111 122 112 120 113.2ZM190.5 227 187 215.5 185 203 185.4 201 187 198.5 188 197.6 190 197 201 198.8 207 200.3 210 201.7 211.8 203 216.3 208 229.8 216 243.8 227M85 85 82 84.9 80 84.1 79 83 78.2 81 78.1 78 79 75.3 81 73.2 83 72.4 86 72.5 88 73.2 93.9 77 95 79 95 80 94.3 81 92.9 82 88 84.5 85 85ZM109 91 107.4 91 106 90.5 105.1 90 104.6 89 104.7 88 105.3 87 108 85.5 109 85.4 110 85.9 110.8 88 110.5 90 109 91ZM120 110.2 118 111 115.8 110 115.1 108 116 106.2 118 105.3 120 106.2 120.8 108 120 110.2ZM195.5 227 189 215.6 186.6 208 186.2 204 186.4 202 188 199.4 190 198.5 200 199.4 208.2 202 210.4 204 213 208 214 208.9 225.5 217 235.6 227M206.4 227 203.1 224 195 218.6 191 214.5 189 210.8 187.8 207 187.7 203 189 200.8 190 200.2 192 199.8 199 200.2 202.4 201 207 203 208.5 205 210.1 209 212 210.9 214.9 213 217 217 219.8 218 221 219.1 226.3 227M197 213.1 195 212.8 193 211.8 191 209.7 190 208 189.5 206 189.6 204 190 202.9 191 202 195 201.2 200 201.4 203.3 203 205.1 205 205 207 203.7 209 199 212.6 197 213.1ZM199 206 196 206.5 194.4 206 193.7 205 194.3 204 195 203.7 199 203.2 200.2 204 200.3 205 199 206Z" fill="none" stroke="#1a1008" stroke-width="0.55" stroke-opacity="0.8"/>
<path d="M30.62 10.56 L37.93 11.14 L43.24 11.53 L48.55 11.9 L53.86 12.26 L59.18 12.59 L64.49 12.9 L69.81 13.19 L75.13 13.45 L80.45 13.7 L85.77 13.92 L91.09 14.12 L96.41 14.31 L101.73 14.47 L107.05 14.6 L112.38 14.72 L117.7 14.82 L123.03 14.89 L128.35 14.95 L133.68 14.98 L139 14.99 L144.32 14.98 L149.65 14.95 L154.97 14.89 L160.3 14.82 L165.62 14.72 L170.95 14.6 L176.27 14.47 L181.59 14.31 L186.91 14.12 L192.23 13.92 L197.55 13.7 L202.87 13.45 L208.19 13.19 L213.51 12.9 L218.82 12.59 L224.14 12.26 L229.45 11.9 L234.76 11.53 L240.07 11.14 L247.38 10.56 L265.17 231.97 L256.98 232.62 L250.78 233.08 L244.58 233.51 L238.38 233.92 L232.18 234.31 L225.97 234.67 L219.77 235.01 L213.56 235.32 L207.35 235.6 L201.14 235.87 L194.93 236.1 L188.72 236.31 L182.5 236.5 L176.29 236.66 L170.08 236.8 L163.86 236.91 L157.65 237 L151.43 237.06 L145.22 237.1 L139 237.11 L132.78 237.1 L126.57 237.06 L120.35 237 L114.14 236.91 L107.92 236.8 L101.71 236.66 L95.5 236.5 L89.28 236.31 L83.07 236.1 L76.86 235.87 L70.65 235.6 L64.44 235.32 L58.23 235.01 L52.03 234.67 L45.82 234.31 L39.62 233.92 L33.42 233.51 L27.22 233.08 L21.02 232.62 L12.83 231.97Z M40.5 51.5 L49.8 51.2 L55 50.2 L60 48.8 L65 46.8 L72.9 43.5 L80.9 39.8 L86.1 34.5 L91.4 33.2 L96.7 30.6 L104.6 28.6 L115.2 25.9 L120.3 25.6 L124.2 26.9 L125.6 30.9 L126.9 36.1 L128.9 40.8 L134.8 42.1 L140.1 42.7 L143.4 44.7 L146.7 42.7 L152 40.8 L154.6 39.4 L159.9 39.4 L167.8 40.1 L175 40.8 L179.9 41.5 L191.5 41.5 L203 40.2 L211.3 39 L213.7 38.2 L217 40.7 L220.3 43.2 L223.6 46.5 L225.3 51.4 L226.9 58 L229.4 66.3 L231.9 72 L233.6 77 L236.6 85.8 L235.6 91.8 L234.6 94.8 L230.6 98.7 L226.7 102.7 L224.7 106.6 L226.7 110.6 L230.6 114.6 L232.6 119.5 L233.1 125 L233.6 129.9 L234.6 139.8 L238.6 148.7 L241 150.5 L243.7 154 L245.7 156.6 L244.3 160.6 L245 164.5 L243.7 168.5 L241.7 171.8 L239.1 175.1 L236.4 177.7 L233.8 181 L229.5 185 L226 189 L222.5 193.5 L220.8 195.6 L217.8 199.3 L216.3 202.3 L217.8 206 L218.6 209 L220.1 212 L221.5 215.7 L223 219.4 L219.3 218.6 L214.9 216.4 L210.4 214.9 L205.9 213.4 L202.2 212 L199.8 209.5 L195.8 208 L190.9 207.6 L185.9 208 L181.1 209.7 L176.2 210.5 L171.2 209.7 L166.3 210.5 L160.5 212.2 L158.8 214.7 L157.2 215.5 L154.7 213.8 L153 211.4 L151.4 209.7 L148.9 207.2 L146.5 204.8 L144.8 206.4 L141.5 207.2 L139 208.9 L136.6 208.9 L134.9 206.4 L133.3 204.8 L130.8 203.1 L127.5 199 L126.9 196.9 L122.6 191.5 L118.3 188.6 L115 188.6 L111 187.8 L108 185.6 L106.5 182.6 L104.3 180.4 L101.4 178.9 L97.6 178.2 L94.7 176 L91.7 174.5 L90.2 176 L91.7 179.7 L88.7 182.6 L85.8 184.9 L83.5 183.4 L82.1 179.7 L79.8 176.7 L76.9 174.5 L75.4 172.3 L78.4 169.3 L79.1 167.8 L77.6 166.3 L73.9 164.8 L70.9 164.8 L68 163.4 L65 162.6 L62.7 161.6 L57.8 158.6 L53.8 155.6 L49.8 157.6 L47.9 156.6 L48.8 152.7 L49.8 147.7 L49.8 141.7 L47.9 135.8 L44.9 129.8 L43.9 123.9 L44.5 118 L44 114.6 L43.2 109.6 L42.4 103 L41.6 96.4 L39.1 91.5 L37.4 88.2 L36.6 85.7 L39.1 83.2 L40.7 79.9 L41.6 75 L42.4 70 L41.6 65 L41.2 61.1 L41.2 55Z" fill="#d9e2cf" fill-rule="evenodd"/>
<path d="M20 0 L157 0 L155.8 17 L155.8 31.5 L153.5 33.5 L141.2 43.8 L140.1 42.7 L134.8 42.1 L128.9 40.8 L126.9 36.1 L125.6 30.9 L124.2 26.9 L120.3 25.6 L115.2 25.9 L104.6 28.6 L96.7 30.6 L91.4 33.2 L86.1 34.5 L80.9 39.8 L72.9 43.5 L65 46.8 L60 48.8 L55 50.2 L49.8 51.2 L40.5 51.5 L36 52.2 L20 52.5Z M155.8 16 L181 16 L179.5 20.5 L176.5 23 L172 22.3 L165 21.4 L155.8 21.8Z" fill="#a9bcdb"/>
<path d="M40.5 51.5 L49.8 51.2 L55 50.2 L60 48.8 L65 46.8 L72.9 43.5 L80.9 39.8 L86.1 34.5 L91.4 33.2 L96.7 30.6 L104.6 28.6 L115.2 25.9 L120.3 25.6 L124.2 26.9 L125.6 30.9 L126.9 36.1 L128.9 40.8 L134.8 42.1 L140.1 42.7 L143.4 44.7 L146.7 42.7 L152 40.8 L154.6 39.4 L159.9 39.4 L167.8 40.1 L175 40.8 L179.9 41.5 L191.5 41.5 L203 40.2 L211.3 39 L213.7 38.2 L217 40.7 L220.3 43.2 L223.6 46.5 L225.3 51.4 L226.9 58 L229.4 66.3 L231.9 72 L233.6 77 L236.6 85.8 L235.6 91.8 L234.6 94.8 L230.6 98.7 L226.7 102.7 L224.7 106.6 L226.7 110.6 L230.6 114.6 L232.6 119.5 L233.1 125 L233.6 129.9 L234.6 139.8 L238.6 148.7 L241 150.5 L243.7 154 L245.7 156.6 L244.3 160.6 L245 164.5 L243.7 168.5 L241.7 171.8 L239.1 175.1 L236.4 177.7 L233.8 181 L229.5 185 L226 189 L222.5 193.5 L220.8 195.6 L217.8 199.3 L216.3 202.3 L217.8 206 L218.6 209 L220.1 212 L221.5 215.7 L223 219.4 L219.3 218.6 L214.9 216.4 L210.4 214.9 L205.9 213.4 L202.2 212 L199.8 209.5 L195.8 208 L190.9 207.6 L185.9 208 L181.1 209.7 L176.2 210.5 L171.2 209.7 L166.3 210.5 L160.5 212.2 L158.8 214.7 L157.2 215.5 L154.7 213.8 L153 211.4 L151.4 209.7 L148.9 207.2 L146.5 204.8 L144.8 206.4 L141.5 207.2 L139 208.9 L136.6 208.9 L134.9 206.4 L133.3 204.8 L130.8 203.1 L127.5 199 L126.9 196.9 L122.6 191.5 L118.3 188.6 L115 188.6 L111 187.8 L108 185.6 L106.5 182.6 L104.3 180.4 L101.4 178.9 L97.6 178.2 L94.7 176 L91.7 174.5 L90.2 176 L91.7 179.7 L88.7 182.6 L85.8 184.9 L83.5 183.4 L82.1 179.7 L79.8 176.7 L76.9 174.5 L75.4 172.3 L78.4 169.3 L79.1 167.8 L77.6 166.3 L73.9 164.8 L70.9 164.8 L68 163.4 L65 162.6 L62.7 161.6 L57.8 158.6 L53.8 155.6 L49.8 157.6 L47.9 156.6 L48.8 152.7 L49.8 147.7 L49.8 141.7 L47.9 135.8 L44.9 129.8 L43.9 123.9 L44.5 118 L44 114.6 L43.2 109.6 L42.4 103 L41.6 96.4 L39.1 91.5 L37.4 88.2 L36.6 85.7 L39.1 83.2 L40.7 79.9 L41.6 75 L42.4 70 L41.6 65 L41.2 61.1 L41.2 55Z" fill="none" stroke="#333" stroke-width="0.5"/>
<path d="M213.7 38.2 L209.6 37.5 L208.9 30.9 L210.4 26.5 L211.1 22.2 L209.6 19.3 L207.5 17.5 M225.3 51.4 L228 51.8 L232.7 52.2 L240 50.6 L250 50 M47.9 156.6 L41.9 154.6 L37.9 151.7 L34 152.7 L30 155.6 L20 157 M41 231 L44.3 227 L45.5 222.5 L47.7 221.9 L50.9 221.4 L58.2 224.1 L67.3 228.6 L76.4 229.5 L79.1 227.7 L85.5 230.5 L92.7 227.7 L98.2 228.6 L107.3 225 L112.7 222.3 L116.4 215 L120 212.3 L125.5 207.7 L130.9 205.9 L134.9 206.4 M216.3 219.9 L213.3 224.8 L210.8 232 M234.8 130.5 L238 132 L242.5 130.5 L246 126.5 L250 123.5 L256 122.5" fill="none" stroke="#555" stroke-width="0.45"/><path d="M141.2 43.6 L145 40.5 L149 37 L153 33.8 L156 32 L160 30.8 L163.6 30.1 L163.8 31.4 L160 32.4 L157 34 L155 36.5 L152.5 39.5 L148 42 L144 44.6 L142 45Z M40.6 55.2 L43 53.6 L46.3 55.2 L47.2 58.3 L45.2 61.2 L42.2 61.3 L40.4 58.6Z" fill="#a9bcdb" stroke="#444" stroke-width="0.4"/><path d="M124.9 27.3 L127.5 28.3 L129.8 29.8 L131.2 31.2 L132.2 32.8" fill="none" stroke="#333" stroke-width="0.8"/>
<path d="M38.47 15.99 L22.44 227.91 M57.96 17.32 L45.04 229.45 M77.47 18.37 L67.66 230.66 M97 19.13 L90.3 231.54 M116.53 19.6 L112.95 232.09 M136.07 19.79 L135.6 232.31 M155.61 19.69 L158.26 232.19 M175.14 19.3 L180.91 231.74 M194.67 18.63 L203.55 230.96 M214.19 17.67 L226.18 229.85 M233.69 16.42 L248.79 228.41 M19.15 220.47 L25.13 220.93 L31.12 221.36 L37.1 221.77 L43.09 222.16 L49.07 222.52 L55.06 222.86 L61.05 223.17 L67.05 223.47 L73.04 223.73 L79.03 223.98 L85.03 224.2 L91.02 224.4 L97.02 224.58 L103.01 224.73 L109.01 224.86 L115.01 224.96 L121.01 225.04 L127 225.1 L133 225.14 L139 225.15 L145 225.14 L151 225.1 L156.99 225.04 L162.99 224.96 L168.99 224.86 L174.99 224.73 L180.98 224.58 L186.98 224.4 L192.97 224.2 L198.97 223.98 L204.96 223.73 L210.95 223.47 L216.95 223.17 L222.94 222.86 L228.93 222.52 L234.91 222.16 L240.9 221.77 L246.88 221.36 L252.87 220.93 L258.85 220.47 M21.83 186.23 L27.68 186.67 L33.53 187.1 L39.38 187.5 L45.23 187.87 L51.08 188.23 L56.94 188.56 L62.79 188.87 L68.65 189.15 L74.51 189.42 L80.37 189.66 L86.23 189.87 L92.09 190.07 L97.95 190.24 L103.82 190.39 L109.68 190.51 L115.54 190.62 L121.41 190.7 L127.27 190.75 L133.14 190.79 L139 190.8 L144.86 190.79 L150.73 190.75 L156.59 190.7 L162.46 190.62 L168.32 190.51 L174.18 190.39 L180.05 190.24 L185.91 190.07 L191.77 189.87 L197.63 189.66 L203.49 189.42 L209.35 189.15 L215.21 188.87 L221.06 188.56 L226.92 188.23 L232.77 187.87 L238.62 187.5 L244.47 187.1 L250.32 186.67 L256.17 186.23 M24.51 151.98 L30.22 152.42 L35.94 152.83 L41.65 153.22 L47.37 153.59 L53.09 153.94 L58.81 154.26 L64.54 154.56 L70.26 154.84 L75.98 155.1 L81.71 155.33 L87.44 155.55 L93.16 155.73 L98.89 155.9 L104.62 156.05 L110.35 156.17 L116.08 156.27 L121.81 156.35 L127.54 156.41 L133.27 156.44 L139 156.45 L144.73 156.44 L150.46 156.41 L156.19 156.35 L161.92 156.27 L167.65 156.17 L173.38 156.05 L179.11 155.9 L184.84 155.73 L190.56 155.55 L196.29 155.33 L202.02 155.1 L207.74 154.84 L213.46 154.56 L219.19 154.26 L224.91 153.94 L230.63 153.59 L236.35 153.22 L242.06 152.83 L247.78 152.42 L253.49 151.98 M27.18 117.74 L32.76 118.16 L38.34 118.57 L43.93 118.95 L49.51 119.31 L55.1 119.65 L60.69 119.96 L66.28 120.26 L71.87 120.53 L77.46 120.78 L83.05 121.01 L88.64 121.22 L94.23 121.4 L99.83 121.57 L105.42 121.71 L111.02 121.83 L116.61 121.93 L122.21 122 L127.81 122.06 L133.4 122.09 L139 122.1 L144.6 122.09 L150.19 122.06 L155.79 122 L161.39 121.93 L166.98 121.83 L172.58 121.71 L178.17 121.57 L183.77 121.4 L189.36 121.22 L194.95 121.01 L200.54 120.78 L206.13 120.53 L211.72 120.26 L217.31 119.96 L222.9 119.65 L228.49 119.31 L234.07 118.95 L239.66 118.57 L245.24 118.16 L250.82 117.74 M29.86 83.49 L35.31 83.91 L40.75 84.3 L46.2 84.67 L51.66 85.02 L57.11 85.35 L62.56 85.66 L68.02 85.95 L73.47 86.22 L78.93 86.46 L84.39 86.68 L89.85 86.89 L95.31 87.07 L100.77 87.23 L106.23 87.37 L111.69 87.48 L117.15 87.58 L122.61 87.65 L128.07 87.71 L133.54 87.74 L139 87.75 L144.46 87.74 L149.93 87.71 L155.39 87.65 L160.85 87.58 L166.31 87.48 L171.77 87.37 L177.23 87.23 L182.69 87.07 L188.15 86.89 L193.61 86.68 L199.07 86.46 L204.53 86.22 L209.98 85.95 L215.44 85.66 L220.89 85.35 L226.34 85.02 L231.8 84.67 L237.25 84.3 L242.69 83.91 L248.14 83.49 M32.54 49.25 L37.85 49.65 L43.16 50.03 L48.48 50.4 L53.8 50.74 L59.12 51.06 L64.44 51.36 L69.76 51.64 L75.08 51.9 L80.4 52.14 L85.73 52.36 L91.05 52.56 L96.38 52.74 L101.7 52.89 L107.03 53.03 L112.36 53.14 L117.69 53.23 L123.01 53.31 L128.34 53.36 L133.67 53.39 L139 53.4 L144.33 53.39 L149.66 53.36 L154.99 53.31 L160.31 53.23 L165.64 53.14 L170.97 53.03 L176.3 52.89 L181.62 52.74 L186.95 52.56 L192.27 52.36 L197.6 52.14 L202.92 51.9 L208.24 51.64 L213.56 51.36 L218.88 51.06 L224.2 50.74 L229.52 50.4 L234.84 50.03 L240.15 49.65 L245.46 49.25" stroke="#4a4f55" stroke-width="0.55" fill="none" opacity="0.9"/>
<g font-size="6.6" fill="#1a1a1a"><text x="118.6" y="36.7" transform="rotate(33.89 118.6 34.5)" text-anchor="middle">4</text><text x="114" y="44.9" transform="rotate(19.86 114 42.7)" text-anchor="middle">5</text><text x="108.6" y="51.2" transform="rotate(28.04 108.6 49)" text-anchor="middle">6</text><text x="103" y="56.7" transform="rotate(22.61 103 54.5)" text-anchor="middle">7</text><text x="98.6" y="63.2" transform="rotate(36.15 98.6 61)" text-anchor="middle">8</text><text x="73" y="52.2" transform="rotate(-28.22 73 50)" text-anchor="middle">10</text><text x="78.6" y="61.2" transform="rotate(-38.77 78.6 59)" text-anchor="middle">11</text><text x="77.7" y="69.8" transform="rotate(87.26 77.7 67.6)" text-anchor="middle">12</text><text x="93" y="84.9" transform="rotate(-27.42 93 82.7)" text-anchor="middle">13</text><text x="98.6" y="94.9" transform="rotate(-72.33 98.6 92.7)" text-anchor="middle">12</text><text x="109.5" y="99.2" transform="rotate(-28.52 109.5 97)" text-anchor="middle">11</text><text x="120.5" y="104.9" transform="rotate(26.36 120.5 102.7)" text-anchor="middle">11</text><text x="69.5" y="94.9" transform="rotate(30.88 69.5 92.7)" text-anchor="middle">6</text><text x="60" y="69.2" transform="rotate(86.9 60 67)" text-anchor="middle">9</text><text x="55" y="74.7" transform="rotate(80.7 55 72.5)" text-anchor="middle">8</text><text x="188" y="94.2" transform="rotate(54.69 188 92)" text-anchor="middle">2</text><text x="177" y="101.2" transform="rotate(33.29 177 99)" text-anchor="middle">3</text><text x="172.7" y="107.7" transform="rotate(47.48 172.7 105.5)" text-anchor="middle">4</text><text x="169" y="114.2" transform="rotate(50.73 169 112)" text-anchor="middle">5</text><text x="169" y="120.2" transform="rotate(32.72 169 118)" text-anchor="middle">6</text><text x="166" y="125.8" transform="rotate(23.49 166 123.6)" text-anchor="middle">7</text><text x="163.6" y="131.2" transform="rotate(54.72 163.6 129)" text-anchor="middle">8</text><text x="148" y="141.2" transform="rotate(-41.86 148 139)" text-anchor="middle">10</text><text x="160" y="143.2" transform="rotate(-64.18 160 141)" text-anchor="middle">8</text><text x="131" y="148.2" transform="rotate(53.81 131 146)" text-anchor="middle">5</text><text x="127" y="155.8" transform="rotate(50.33 127 153.6)" text-anchor="middle">4</text><text x="137" y="153.2" transform="rotate(36.63 137 151)" text-anchor="middle">6</text><text x="174.5" y="147.7" transform="rotate(-17.71 174.5 145.5)" text-anchor="middle">7</text><text x="179" y="154.2" transform="rotate(7.48 179 152)" text-anchor="middle">5</text><text x="173" y="160.7" transform="rotate(24.21 173 158.5)" text-anchor="middle">4</text><text x="219" y="165.2" transform="rotate(12.8 219 163)" text-anchor="middle">5</text><text x="216" y="171.9" transform="rotate(15.19 216 169.7)" text-anchor="middle">4</text><text x="213" y="178.2" transform="rotate(36.19 213 176)" text-anchor="middle">3</text><text x="179.6" y="182.2" transform="rotate(-22.76 179.6 180)" text-anchor="middle">3</text><text x="151.5" y="187.9" transform="rotate(-20.92 151.5 185.7)" text-anchor="middle">3</text><text x="164" y="196.9" transform="rotate(-5.22 164 194.7)" text-anchor="middle">4</text><text x="210.7" y="186.8" transform="rotate(-72.94 210.7 184.6)" text-anchor="middle">2</text><text x="62" y="137.2" transform="rotate(33.75 62 135)" text-anchor="middle">2</text></g>
</g>
<path d="M32.34 14.11 L35.46 14.36 L38.57 14.6" stroke="#000" stroke-width="2.8" fill="none" stroke-linecap="butt"/>
<path d="M38.57 14.6 L41.82 14.84 L45.06 15.07 L48.31 15.3 L51.55 15.51 L54.8 15.72 L58.05 15.93 L61.29 16.12 L64.54 16.31 L67.79 16.48 L71.04 16.65 L74.29 16.82 L77.54 16.97" stroke="#fff" stroke-width="2.8" fill="none" stroke-linecap="butt"/>
<path d="M77.54 16.97 L80.79 17.12 L84.04 17.25 L87.29 17.38 L90.54 17.51 L93.79 17.62 L97.04 17.73 L100.29 17.83 L103.54 17.92 L106.8 18 L110.05 18.07 L113.3 18.14 L116.55 18.2" stroke="#000" stroke-width="2.8" fill="none" stroke-linecap="butt"/>
<path d="M116.55 18.2 L119.81 18.25 L123.06 18.29 L126.31 18.33 L129.57 18.36 L132.82 18.37 L136.07 18.39 L139.33 18.39 L142.58 18.38 L145.83 18.37 L149.08 18.35 L152.34 18.32 L155.59 18.29" stroke="#fff" stroke-width="2.8" fill="none" stroke-linecap="butt"/>
<path d="M155.59 18.29 L158.84 18.24 L162.1 18.19 L165.35 18.13 L168.6 18.06 L171.85 17.98 L175.11 17.9 L178.36 17.81 L181.61 17.71 L184.86 17.6 L188.11 17.48 L191.36 17.36 L194.61 17.23" stroke="#000" stroke-width="2.8" fill="none" stroke-linecap="butt"/>
<path d="M194.61 17.23 L197.86 17.09 L201.11 16.94 L204.36 16.78 L207.61 16.62 L210.86 16.45 L214.11 16.27 L217.36 16.08 L220.6 15.89 L223.85 15.68 L227.1 15.47 L230.34 15.25 L233.59 15.02" stroke="#fff" stroke-width="2.8" fill="none" stroke-linecap="butt"/>
<path d="M233.59 15.02 L237.61 14.73 L241.63 14.43 L245.66 14.11" stroke="#000" stroke-width="2.8" fill="none" stroke-linecap="butt"/>
<path d="M15.1 228.74 L18.71 229.03 L22.33 229.3" stroke="#000" stroke-width="2.8" fill="none" stroke-linecap="butt"/>
<path d="M22.33 229.3 L26.1 229.59 L29.87 229.86 L33.64 230.12 L37.41 230.37 L41.18 230.62 L44.95 230.85 L48.73 231.07 L52.5 231.29 L56.27 231.5 L60.05 231.7 L63.82 231.88 L67.6 232.06" stroke="#fff" stroke-width="2.8" fill="none" stroke-linecap="butt"/>
<path d="M67.6 232.06 L71.37 232.23 L75.15 232.39 L78.92 232.54 L82.7 232.69 L86.48 232.82 L90.25 232.94 L94.03 233.06 L97.81 233.16 L101.59 233.26 L105.37 233.35 L109.15 233.42 L112.92 233.49" stroke="#000" stroke-width="2.8" fill="none" stroke-linecap="butt"/>
<path d="M112.92 233.49 L116.7 233.55 L120.48 233.6 L124.26 233.64 L128.04 233.67 L131.82 233.69 L135.6 233.71 L139.38 233.71 L143.16 233.71 L146.94 233.69 L150.72 233.67 L154.49 233.63 L158.27 233.59" stroke="#fff" stroke-width="2.8" fill="none" stroke-linecap="butt"/>
<path d="M158.27 233.59 L162.05 233.54 L165.83 233.48 L169.61 233.41 L173.39 233.33 L177.17 233.24 L180.95 233.14 L184.72 233.04 L188.5 232.92 L192.28 232.79 L196.05 232.66 L199.83 232.51 L203.61 232.36" stroke="#000" stroke-width="2.8" fill="none" stroke-linecap="butt"/>
<path d="M203.61 232.36 L207.38 232.2 L211.16 232.03 L214.93 231.85 L218.71 231.66 L222.48 231.46 L226.26 231.25 L230.03 231.03 L233.8 230.8 L237.57 230.57 L241.34 230.32 L245.12 230.07 L248.89 229.8" stroke="#fff" stroke-width="2.8" fill="none" stroke-linecap="butt"/>
<path d="M248.89 229.8 L253.56 229.46 L258.23 229.11 L262.9 228.74" stroke="#000" stroke-width="2.8" fill="none" stroke-linecap="butt"/>
<path d="M33.85 12.83 L30.94 49.12" stroke="#fff" stroke-width="2.8" fill="none" stroke-linecap="butt"/>
<path d="M30.94 49.12 L25.43 117.6" stroke="#000" stroke-width="2.8" fill="none" stroke-linecap="butt"/>
<path d="M25.43 117.6 L19.93 186.08" stroke="#fff" stroke-width="2.8" fill="none" stroke-linecap="butt"/>
<path d="M19.93 186.08 L16.38 230.25" stroke="#000" stroke-width="2.8" fill="none" stroke-linecap="butt"/>
<path d="M244.15 12.83 L247.06 49.12" stroke="#fff" stroke-width="2.8" fill="none" stroke-linecap="butt"/>
<path d="M247.06 49.12 L252.57 117.6" stroke="#000" stroke-width="2.8" fill="none" stroke-linecap="butt"/>
<path d="M252.57 117.6 L258.07 186.08" stroke="#fff" stroke-width="2.8" fill="none" stroke-linecap="butt"/>
<path d="M258.07 186.08 L261.62 230.25" stroke="#000" stroke-width="2.8" fill="none" stroke-linecap="butt"/>
<path d="M32.46 12.71 L35.25 12.94 L35.02 15.73 L32.23 15.51Z" fill="#fff" stroke="#000" stroke-width="0.5"/>
<path d="M14.98 230.14 L17.77 230.36 L18 227.57 L15.21 227.35Z" fill="#fff" stroke="#000" stroke-width="0.5"/>
<path d="M245.54 12.71 L242.75 12.94 L242.98 15.73 L245.77 15.51Z" fill="#fff" stroke="#000" stroke-width="0.5"/>
<path d="M263.02 230.14 L260.23 230.36 L260 227.57 L262.79 227.35Z" fill="#fff" stroke="#000" stroke-width="0.5"/>
<path d="M32.46 12.71 L37.77 13.13 L43.09 13.53 L48.41 13.9 L53.73 14.25 L59.05 14.58 L64.38 14.89 L69.7 15.18 L75.03 15.45 L80.36 15.7 L85.69 15.92 L91.01 16.12 L96.34 16.3 L101.67 16.47 L107.01 16.6 L112.34 16.72 L117.67 16.82 L123 16.89 L128.33 16.95 L133.67 16.98 L139 16.99 L144.33 16.98 L149.67 16.95 L155 16.89 L160.33 16.82 L165.66 16.72 L170.99 16.6 L176.33 16.47 L181.66 16.3 L186.99 16.12 L192.31 15.92 L197.64 15.7 L202.97 15.45 L208.3 15.18 L213.62 14.89 L218.95 14.58 L224.27 14.25 L229.59 13.9 L234.91 13.53 L240.23 13.13 L245.54 12.71 L263.02 230.14 L256.83 230.62 L250.64 231.08 L244.45 231.52 L238.25 231.93 L232.06 232.31 L225.86 232.67 L219.66 233.01 L213.46 233.32 L207.26 233.61 L201.06 233.87 L194.86 234.1 L188.65 234.32 L182.45 234.5 L176.24 234.66 L170.04 234.8 L163.83 234.91 L157.62 235 L151.41 235.06 L145.21 235.1 L139 235.11 L132.79 235.1 L126.59 235.06 L120.38 235 L114.17 234.91 L107.96 234.8 L101.76 234.66 L95.55 234.5 L89.35 234.32 L83.14 234.1 L76.94 233.87 L70.74 233.61 L64.54 233.32 L58.34 233.01 L52.14 232.67 L45.94 232.31 L39.75 231.93 L33.55 231.52 L27.36 231.08 L21.17 230.62 L14.98 230.14Z" stroke="#000" stroke-width="0.7" fill="none"/>
<path d="M35.02 15.73 L37.56 15.92 L42.89 16.32 L48.22 16.69 L53.55 17.05 L58.89 17.38 L64.22 17.69 L69.56 17.98 L74.9 18.25 L80.23 18.49 L85.57 18.72 L90.91 18.92 L96.25 19.1 L101.6 19.26 L106.94 19.4 L112.28 19.52 L117.62 19.62 L122.97 19.69 L128.31 19.75 L133.66 19.78 L139 19.79 L144.34 19.78 L149.69 19.75 L155.03 19.69 L160.38 19.62 L165.72 19.52 L171.06 19.4 L176.4 19.26 L181.75 19.1 L187.09 18.92 L192.43 18.72 L197.77 18.49 L203.1 18.25 L208.44 17.98 L213.78 17.69 L219.11 17.38 L224.45 17.05 L229.78 16.69 L235.11 16.32 L240.44 15.92 L242.98 15.73 L260 227.57 L256.62 227.83 L250.44 228.29 L244.25 228.72 L238.07 229.13 L231.89 229.52 L225.7 229.88 L219.51 230.21 L213.33 230.52 L207.14 230.81 L200.95 231.07 L194.75 231.31 L188.56 231.52 L182.37 231.7 L176.17 231.86 L169.98 232 L163.78 232.11 L157.59 232.2 L151.39 232.26 L145.2 232.3 L139 232.31 L132.8 232.3 L126.61 232.26 L120.41 232.2 L114.22 232.11 L108.02 232 L101.83 231.86 L95.63 231.7 L89.44 231.52 L83.25 231.31 L77.05 231.07 L70.86 230.81 L64.67 230.52 L58.49 230.21 L52.3 229.88 L46.11 229.52 L39.93 229.13 L33.75 228.72 L27.56 228.29 L21.38 227.83 L18 227.57Z" stroke="#000" stroke-width="0.7" fill="none"/>
<g font-size="6.8" fill="#3a3a3a"><text x="39.48" y="10.9" text-anchor="middle">14°</text>
<text x="23.02" y="239.3" text-anchor="middle">14°</text>
<text x="78.4" y="13.27" text-anchor="middle">16°</text>
<text x="68.33" y="242.06" text-anchor="middle">16°</text>
<text x="117.38" y="14.5" text-anchor="middle">18°</text>
<text x="113.7" y="243.49" text-anchor="middle">18°</text>
<text x="156.37" y="14.59" text-anchor="middle">20°</text>
<text x="159.09" y="243.59" text-anchor="middle">20°</text>
<text x="195.36" y="13.53" text-anchor="middle">22°</text>
<text x="204.47" y="242.36" text-anchor="middle">22°</text>
<text x="234.29" y="11.33" text-anchor="middle">24°</text>
<text x="249.79" y="239.8" text-anchor="middle">24°</text>
<text x="26.34" y="51.21" text-anchor="end">54°</text>
<text x="250.46" y="51.21" text-anchor="start">54°</text>
<text x="20.84" y="119.69" text-anchor="end">52°</text>
<text x="255.96" y="119.69" text-anchor="start">52°</text>
<text x="15.33" y="188.17" text-anchor="end">50°</text>
<text x="261.47" y="188.17" text-anchor="start">50°</text></g>
<rect x="37.1" y="193.5" width="38.6" height="14" fill="#fff" stroke="#bbb" stroke-width="0.4"/><path d="M40.7 196.4H72.1" stroke="#999" stroke-width="2"/><path d="M40.7 195.3V199.6M72.1 195.3V199.6" stroke="#999" stroke-width="0.5"/><text x="56.6" y="205.6" text-anchor="middle" font-size="6.8" fill="#222">100 km</text>
<clipPath id="clipb"><path d="M308.32 15.73 L310.86 15.92 L316.19 16.32 L321.52 16.69 L326.85 17.05 L332.19 17.38 L337.52 17.69 L342.86 17.98 L348.2 18.25 L353.53 18.49 L358.87 18.72 L364.21 18.92 L369.55 19.1 L374.9 19.26 L380.24 19.4 L385.58 19.52 L390.92 19.62 L396.27 19.69 L401.61 19.75 L406.96 19.78 L412.3 19.79 L417.64 19.78 L422.99 19.75 L428.33 19.69 L433.68 19.62 L439.02 19.52 L444.36 19.4 L449.7 19.26 L455.05 19.1 L460.39 18.92 L465.73 18.72 L471.07 18.49 L476.4 18.25 L481.74 17.98 L487.08 17.69 L492.41 17.38 L497.75 17.05 L503.08 16.69 L508.41 16.32 L513.74 15.92 L516.28 15.73 L533.3 227.57 L529.92 227.83 L523.74 228.29 L517.55 228.72 L511.37 229.13 L505.19 229.52 L499 229.88 L492.81 230.21 L486.63 230.52 L480.44 230.81 L474.25 231.07 L468.05 231.31 L461.86 231.52 L455.67 231.7 L449.47 231.86 L443.28 232 L437.08 232.11 L430.89 232.2 L424.69 232.26 L418.5 232.3 L412.3 232.31 L406.1 232.3 L399.91 232.26 L393.71 232.2 L387.52 232.11 L381.32 232 L375.13 231.86 L368.93 231.7 L362.74 231.52 L356.55 231.31 L350.35 231.07 L344.16 230.81 L337.97 230.52 L331.79 230.21 L325.6 229.88 L319.41 229.52 L313.23 229.13 L307.05 228.72 L300.86 228.29 L294.68 227.83 L291.3 227.57Z"/></clipPath>
<g clip-path="url(#clipb)">
<rect x="0" y="0" width="550" height="303" fill="#8c0000"/>
<path d="M525.3 226.8 304.3 226.8 303.5 226 303.4 21 304.3 20.1 525.3 20.1 526.2 21 526.1 226 525.3 226.8Z" fill="#a60000" fill-rule="evenodd"/>
<path d="M525.3 226.8 304.3 226.7 303.6 226 303.5 21 304.3 20.2 525.3 20.1 526.2 21 526.1 226 525.3 226.8Z" fill="#bf0000" fill-rule="evenodd"/>
<path d="M525.3 226.7 304.3 226.7 303.6 226 303.6 21 304.3 20.3 525.3 20.1 526.2 21 526 226 525.3 226.7Z" fill="#d90000" fill-rule="evenodd"/>
<path d="M525.3 226.6 304.3 226.6 303.7 226 303.6 21 304.3 20.3 525.3 20.1 526.2 21 525.9 226 525.3 226.6Z" fill="#f20000" fill-rule="evenodd"/>
<path d="M525.3 226.6 304.3 226.5 303.8 226 303.7 21 304.3 20.4 525.3 20.2 526.1 21 525.9 226 525.3 226.6ZM352 134 352.7 133 352.8 132 352.3 131 351.3 130.3 350.3 130 348.3 130.1 346.8 131 346.3 132 346.3 133 347.1 134 348.3 134.6 350.3 134.7 352 134Z" fill="#ff0d00" fill-rule="evenodd"/>
<path d="M525.3 226.5 304.3 226.4 303.9 226 304 87 303.7 21 304.3 20.4 525.3 20.2 526.1 21 525.8 226 525.3 226.5ZM378.9 144 380.7 143 381 142 380.7 141 379.3 139 376.3 136.8 373.3 136.5 367.3 138.2 364.3 137.4 362.3 135 358.3 127 356.3 125.3 352.3 124.9 345.3 126 342.3 127.5 340.6 130 340.7 133 342 135 344.4 137 347.3 138.4 350.3 139.1 360.3 140.3 365.3 141.5 372.3 144 378.9 144Z" fill="#ff2600" fill-rule="evenodd"/>
<path d="M525.3 226.4 304.3 226.4 303.9 226 304.1 87 303.8 21 304.3 20.5 525.3 20.2 526.1 21 525.7 226 525.3 226.4ZM335.9 98 336.4 97 336.3 96.5 335.3 95.6 332.3 95.7 331.4 96 330.9 97 331.6 98 333.3 98.7 334.3 98.7 335.9 98ZM381.2 148 383.4 147 385 145 385.5 143 385.1 141 383.6 138 378.3 130.5 375.3 127.9 373.3 127.9 369.3 129.7 367.3 129.7 364.3 127.8 358.3 122.2 354.3 121.2 348.3 121.4 342.3 120.8 340.3 121.1 337.3 122.8 335.6 125 335 129 335.5 132 336.3 134 338.6 137 343.3 140 347.3 141.7 354.3 143.4 366.3 147.1 376.3 148.2 381.2 148Z" fill="#ff4000" fill-rule="evenodd"/>
<path d="M525.3 226.4 304.3 226.3 304 226 304.2 87 303.9 21 304.3 20.6 525.3 20.3 526 21 525.7 226 525.3 226.4ZM385.1 151 387.3 149.6 388.6 148 389.3 145 388.8 142 387.6 139 381.3 128.5 378.4 125 376.3 123.5 374.3 123.1 369.3 124.8 366.3 124.7 358.3 119.6 350.9 117 347.6 115 345 112 343.5 109 343 106 342.7 99 341.7 95 340.3 92.9 338.3 91.3 334.3 90 329.3 89.8 325.3 91.1 321.5 94 320.4 96 320.3 99 321.3 102 324.4 108 324.7 111 322 117 320.3 119 316.8 122 316.4 124 317.3 125.3 318.4 126 323.3 127.4 326.3 129 329.3 132.1 332.5 137 335.3 139.9 338.3 141.7 345.3 144.5 355.3 146.8 367.3 150.3 380.3 151.8 383.3 151.6 385.1 151ZM407.5 176 409.3 175.1 409.9 174 410.1 165 411.3 162.2 412.6 161 414.3 160.5 415.3 160.6 418.3 162 420.3 161.9 421.3 161 422.1 159 422.1 158 421.3 156.5 420.3 156 413.3 155.6 407.3 152.9 405.3 152.9 404.3 153.9 403.9 156 403.7 162 402.8 165 400.5 170 400.4 172 401.5 174 403.3 175.4 405.3 176.1 407.5 176Z" fill="#ff5900" fill-rule="evenodd"/>
<path d="M525.3 226.3 304.3 226.2 304.3 143.6 310.3 142.3 315.3 142.2 321.3 144.6 326.3 145.8 334.3 148.5 350.3 148.8 354.3 149.2 359.3 150.4 365.3 152.3 374.3 153.9 377.4 155 380.8 157 382.3 159 382.6 161 382.5 163 380.3 171 380.2 174 381.3 177.6 383 181 384.3 182.5 386.3 183.5 388.3 183.5 395.3 181.6 405.3 183.2 415.3 183 421.3 182.2 424 181 424.9 180 425.3 178.6 424.9 169 426.3 162 426.6 158 426.1 155 425.3 153.4 424.3 152.7 416.3 150.4 407.3 145.9 402.3 144.6 397.3 144.2 394.3 142.8 392.3 140.6 387 133 382.8 126 380.9 124 378.3 122.2 376.3 121.3 374.3 121 368.3 122 366.3 121.6 363.3 120.1 354 114 352.2 112 350.5 109 344.4 93 343 91 340.7 89 334.3 86.2 330.3 85.3 326.3 85.6 320.3 87.4 318.3 87.5 316.3 86.4 314.3 83.4 312.3 81.8 304.3 78.1 303.9 21 304.3 20.6 308.3 20.6 525.3 20.3 526 21 525.8 167 525.6 226 525.3 226.3Z" fill="#ff7300" fill-rule="evenodd"/>
<path d="M525.3 226.3 304.3 226.1 304.3 173 305.3 172.4 313.3 168.8 329.3 163.3 333.3 160.8 340.3 155.2 346.3 152.5 351.3 151.5 358.3 152.2 372.3 156.6 374.9 158 376.3 159.3 377.3 161.1 377.6 164 375.2 172 375.4 175 379.6 185 381.3 187.9 384.3 190.3 387.3 190.8 390.3 190 395.3 188 405.3 187.9 420.3 185.2 423.3 184.2 425.3 183.1 427 181 427.6 179 427.6 170 429 159 428.1 154 426.8 152 425.5 151 418.3 148.4 410.3 143.5 398.3 139.7 394.3 137.5 390.3 133.1 385 125 381.5 122 376.3 119.6 368.3 119.2 366.3 118.7 361.4 116 359.4 114 357.3 111 353.6 103 347.1 91 345.3 88.6 343.3 86.8 337.3 83.3 329.3 77.8 325.3 75.8 322.3 75 318.3 75.6 315.3 75.1 310.3 69.4 304.3 66 304 21 304.3 20.7 319.3 20.6 525.3 20.3 526 21 525.8 165 525.3 226.3Z" fill="#ff8c00" fill-rule="evenodd"/>
<path d="M525.3 226.2 304.3 226.1 304.3 190.7 308.9 186 313.7 182 333.3 168.2 337.3 164.3 342.5 158 346.3 155.4 351.3 153.7 357.3 153.9 361.3 154.9 366.5 157 371.6 160 373.1 162 373.6 164 371.3 172 371.2 175 371.7 177 373.6 181 376.2 189 378.3 192.6 380.8 195 384.3 196.6 387.3 197.1 391.3 196.6 397.3 195 406.3 191.6 422.3 186.9 426.3 185 428.2 183 429.3 180 429.7 171 430.9 160 430.7 157 430 154 429 152 427.1 150 419.3 146.8 411.3 141.3 400.3 137.2 396.3 135.2 392.8 132 386.3 123.4 382.3 120.5 377.3 118.1 367.3 116 363.9 114 362.7 112 360.9 105 354.3 96 349.2 88 346.4 85 339.3 79.6 331.3 71.1 328 69 304.3 57.7 304 21 304.3 20.7 329.3 20.6 525.3 20.3 526 21 525.8 163 525.3 226.2ZM461.3 206 462.4 205 462.3 204.6 461.3 204.3 461 205 461.3 206Z" fill="#ffa600" fill-rule="evenodd"/>
<path d="M525.3 226.1 305.6 226 306.2 218 307.8 211 310.4 204 314.2 197 317.7 192 321.8 187 336.3 171.8 344.3 160 348.3 156.9 353.3 155.5 358.3 155.9 364 158 368.1 161 369.4 163 369.7 165 369.1 168 367.4 173 367.2 177 367.8 180 372.3 193 375.1 198 378.3 201.1 382.3 203.1 386.3 203.7 390.3 203.3 395.3 201.7 399.3 199.7 406.3 195.4 423.3 188.7 428.3 186 430 184 431 181 431.4 172 432.7 161 432.5 157 431.5 153 430.3 150.8 428.6 149 426.3 147.7 420.3 145.4 412.3 139.5 401.7 135 398.3 133.2 395.3 130.7 389.5 124 386.3 121 379.3 117.1 372.3 114.6 369.8 113 368.3 111 366.7 106 365.7 104 358.8 96 352.4 87 349.7 84 341.9 77 333.3 67.1 330.3 65.2 320.3 61 304.3 50.9 304.1 21 525.3 20.4 525.9 21 525.3 226.1ZM462.4 213 464.3 210 467.4 204 467.4 202 466.7 201 465.3 200.2 463.3 200.1 460.3 201.1 458.4 203 457.3 205.9 457.3 209.6 458.3 212.4 459.3 213.6 460.3 214 461.3 213.8 462.4 213Z" fill="#ffbf00" fill-rule="evenodd"/>
<path d="M525.3 226.1 476.5 226 475.3 225.5 470.3 222.3 468.4 220 467.4 218 466.8 215 467 211 468 208 470.6 204 471 202 470.3 200.1 469.2 199 467.3 198.1 465.3 197.8 462.3 198.4 459.3 199.9 457.3 201.8 456 204 454.9 209 454.6 220 453.3 226 321.9 226 321.2 220 321.5 213 322.8 206 325.2 199 330.2 189 340.3 173.5 345.1 163 346.5 161 348.9 159 353.3 157.5 357.3 157.5 361.8 159 365.4 162 366.3 164 366.4 166 364.1 173 363.8 179 366.4 193 368 199 371 205 374.3 208.7 378.3 211 383.3 212 388.3 211.4 393.3 209.5 398.3 206.4 409.4 198 416.7 194 427.3 189.2 430.5 187 432 185 432.8 182 433.1 173 434.4 164 434.3 159 432.9 152 431.9 150 430.3 148 427.3 146.2 421.3 144 414.3 138.4 400.3 131.2 397.3 128.9 388.3 120.3 375 112 373.5 110 371.4 105 361.9 95 354.5 85 346.1 77 336 65 332.3 62.3 323.3 58.8 320.3 57.1 312.3 50.2 304.3 43.9 304.1 21 525.3 20.4 525.9 21 525.3 226.1Z" fill="#ffd900" fill-rule="evenodd"/>
<path d="M517.3 226 493.8 226 488.3 222.6 480.3 220.8 475.3 218.6 473.1 217 471.4 215 470.3 213 469.9 211 470.1 209 473.4 204 473.8 202 473.5 200 472.3 198.3 470.3 197 465.3 196 462.3 196.7 459.3 198.3 457.1 200 455.3 202.3 453.8 206 451.3 217.2 447.4 226 386.3 226 395.3 218.7 408.2 205 414.8 199 422.1 194 430.3 189.9 433.7 187 434.7 185 435 183 435 173 436.1 164 435.6 156 434.1 150 432.3 147.1 430.3 145.4 422.3 142.5 415.8 137 403.3 130 391.3 120 383.1 115 380.6 113 378 110 374.3 103.5 364.3 93.6 357.3 84.2 349.9 77 339.3 64 336.3 61.3 333.3 59.2 324.3 55.6 322.3 54.4 313.3 44.4 304.3 36 304.2 21 525.3 20.4 525.9 21 525.3 223.1 518.2 226 517.3 226ZM360.3 226 348.1 226 345.3 223.8 342.3 220.5 339.3 215.5 337.4 210 336.7 205 336.7 198 338 191 340.3 184 344.6 174 346.9 165 347.9 163 349.8 161 351.8 160 354.3 159.4 357.3 159.4 360.3 160.5 362.3 162.2 363.5 165 363.1 168 361 174 360.6 177 360.6 188 359.5 207 359.8 214 361.1 225 361.1 226 360.3 226Z" fill="#fff200" fill-rule="evenodd"/>
<path d="M441.3 226 405 226 406.3 221 408.6 216 418.5 201 423.5 196 430.3 192.3 434.3 189.6 435.9 188 437.4 185 438.1 181 437.5 173 437.8 162 436.4 151 435.5 148 434.5 146 431.3 143.1 424.3 140.5 418.3 135.9 406.9 129 397.3 121 386 114 383.6 112 377.3 103 365.3 90.9 358.6 82 351.8 75 347.8 69 344.5 65 339.3 59.7 335.3 56.2 325.2 50 314.3 36.8 304.3 26.9 304.3 21 525.3 20.4 525.9 21 525.3 205.8 517.5 206 514 207 512.3 208.7 509.9 215 506.9 219 503.3 221.1 501.3 221.6 498.3 221.5 494.3 219.9 490.3 216.7 485.3 217.4 483.3 217.3 480.3 216.4 477.9 215 475.8 213 474.8 211 474.7 209 476.4 202 476.3 200 475.3 197.6 473.3 196 470.3 195 466.3 194.6 463.3 195 458.3 197.4 454.5 201 452.9 204 450.7 212 449 216 442.3 225.7 441.3 226ZM352.3 188.4 350.3 188.7 349.3 188.1 348.3 186.6 347.9 185 347.8 182 349.3 174 349.6 167 350.3 164.6 351.7 163 354.3 161.8 357.3 161.7 359.5 163 360.3 164.7 360.3 166.3 357.2 174 356.9 180 356.3 182.9 354.3 186.7 352.3 188.4Z" fill="#f2ff0d" fill-rule="evenodd"/>
<path d="M435.3 226 416.7 226 416 224 415.6 221 416 218 417 215 423.3 201 425.8 198 434.3 192 437.7 189 440.5 185 442.1 181 442.1 179 440.3 172 439.8 164 437.9 148 436.3 143.3 434.3 141 432.3 139.6 426.3 137 411.9 129 406.9 125 402.3 119.8 400.3 118.1 392.3 114.6 387.2 111 381.3 103 374.7 97 365.3 87.1 360.3 80.2 355.1 74 350.3 66 341.7 57 335.8 49 327.3 41 316.5 29 308.6 21 525.3 20.5 525.8 21 525.3 194.9 516.3 193.6 508.3 191.6 502.3 189.3 495 185 493.3 184.5 491.3 184.7 490 186 489.7 187 490 189 491.3 190.4 495.9 193 496.9 194 497.8 196 497.8 199 494.8 210 494.9 212 496.5 214 495.3 214.7 494.3 213 493.3 212.7 485.3 214.8 483.3 214.6 481.3 213.7 478.9 211 478.1 207 478.8 199 478.4 197 477.3 195.5 474.3 194 470.3 193.4 466.3 193.3 462.3 194 458.1 196 453.6 200 451.9 203 449.3 211 447.3 214.7 437.3 225.1 436.2 226 435.3 226Z" fill="#d9ff26" fill-rule="evenodd"/>
<path d="M432.3 223.2 428.3 224 425.1 223 423.9 222 422.6 220 422.1 216 422.7 213 424.6 207 427.6 201 431.2 197 441.4 188 444.6 184 445.9 181 445.8 179 443.6 174 442.5 170 440.3 156 440.1 144 438.7 140 437.1 138 434.3 135.9 425.7 132 418.3 129.2 413.3 126.2 410.1 123 406.2 116 403.3 112.9 400.9 112 394.3 111 391.3 109.5 389.3 107.8 383.9 101 377.3 95.8 373.3 90.6 367.7 86 365.3 83 359.2 74 354.6 65 348.3 58 346.1 55 345 52 344.5 45 343.3 42.6 340.3 39.7 330.3 31.9 319.3 21 525.3 20.5 525.8 21 525.3 188.1 517.3 188 510.3 187.2 505.3 186.1 494.3 182.9 491.3 182.9 488.6 184 487.1 186 484.6 192 484.9 193 489.3 193.7 492.3 194.8 493.7 197 493.7 199 492.5 206 491 210 489.3 211.8 486.3 212.9 484.3 212.8 482.3 211.7 481 210 480.2 207 481 200 483.5 194 483.1 193 476.3 192.1 470.3 191.9 464.3 192.3 460.3 193.3 456.3 195.6 452.3 199.3 450.9 202 448.2 210 445.3 214.2 435.3 221.6 432.3 223.2Z" fill="#bfff40" fill-rule="evenodd"/>
<path d="M434.3 218 432.3 218.7 430.3 218.8 428.3 218.1 427.3 217 426.6 215 426.6 213 428.7 206 431.8 200 434 197 437.3 194 442.8 190 445.9 187 447.8 184 448.6 181 448.2 178 444.8 170 442.1 158 441.8 153 443.3 143 442.9 140 442.2 138 440.3 135.4 437 133 420.3 126.3 416.2 124 413.7 121 410.5 114 404.3 106 402.3 104.8 395.3 105.6 392.3 104.6 390.3 102.8 385.3 96.8 381 93 377.3 87.3 370.5 84 368.3 82.2 363 75 361.4 72 358.9 65 352.2 55 351.7 52 351.9 45 350.1 41 345.3 35 330.3 21 525.3 20.5 525.8 21 525.3 182.8 518.3 183.6 511.3 183.8 505.3 183.3 495.3 181.6 490.3 181.7 486.5 183 483.3 186.5 479 189 475.3 189.8 463.3 191.2 459.3 192.2 455.3 194.3 453 196 451.3 197.9 449.8 201 447.6 208 445.3 211.8 443.3 213.5 434.3 218ZM487.3 211.1 485.3 211.2 483.3 210 482.2 208 481.9 205 482.7 201 484 199 486.3 197.6 488.3 197.3 489.9 198 490.6 199 490.9 201 490.9 205 489.7 209 489 210 487.3 211.1Z" fill="#a6ff59" fill-rule="evenodd"/>
<path d="M435.3 214.1 432.3 213.8 431.4 213 431 211 431.7 206 434.1 200 436.2 197 438.3 195.2 446.3 191.5 448.1 190 450.3 185.8 451.5 182 451.2 179 446.6 169 443.5 157 443.7 152 445.8 145 446.3 142 446 138 444.9 135 443.3 133 440.3 131.1 422.3 123.1 418.3 120.1 414.3 113 409.7 106 408 102 406.3 96 404.7 94 403.3 93.6 402.3 94.1 399.8 98 398.3 99.3 396.3 100 394.3 99.8 391.3 97.4 384.7 88 381.9 85 378.5 83 372.3 81 368.2 78 365.8 75 364.1 72 362.1 65 358.8 58 358.1 55 358.3 53 359.2 51 361.1 49 365 46 365.5 45 365.3 44 364.1 43 359.3 40.8 356.3 38.5 341 21 525.3 20.6 525.7 21 525.3 177.9 517.3 180 510.3 180.9 504.3 181 493.3 180.4 486.3 181.1 484.2 182 476.3 187.2 467.3 189.2 459.3 190.4 454.7 192 451.3 193.7 450.1 195 449 198 447.1 206 445 210 443.3 211.6 441.3 212.6 435.3 214.1ZM487.3 209.4 486.3 209.6 485.3 209.3 484.3 208.3 483.5 205 484.3 201.9 485.3 200.7 487.3 200.2 488.6 201 489.4 204 488.5 208 487.3 209.4Z" fill="#8cff73" fill-rule="evenodd"/>
<path d="M465.3 188.1 455.2 188 454.6 187 455.4 182 455 180 450.3 172.7 447.9 167 445.5 159 445 155 445.5 152 448.2 145 449.1 141 448.8 136 447.3 132.6 446 131 443.3 129.1 431.9 124 424.3 119.6 421.3 117.2 413 105 408.7 94 406.3 90.8 404.3 90 402.3 90.2 399.7 92 397.6 95 395.6 95 393.5 93 389.3 86.6 386.9 84 382.3 81.4 373.3 78.5 370.3 76.6 368.3 74.7 366.3 71.7 364.9 68 362.4 58 362.3 56 362.9 54 365.3 51.7 369.3 49.5 377.3 46.3 383.3 44.8 384.5 44 385.1 43 385.1 42 384.5 41 381.3 38.4 379.3 37 377.3 36.2 373.3 36.1 366.3 37.5 363.3 36.9 361.3 35.5 359 33 350.8 21 525.3 20.6 525.7 21 525.3 173 517.3 176.4 509.3 178.5 504.3 179.1 493.3 179.3 485.3 180 477.3 183.3 474.6 185 465.3 188.1ZM440.3 211.3 437.3 211.5 435.3 210.7 434.3 209.4 434 208 434.3 205 435.8 200 437.3 198 440.3 196 442.3 195.5 444.3 195.7 445.3 196.2 446.6 198 446.8 201 446.3 204.5 445.4 207 444 209 442.3 210.4 440.3 211.3ZM486.3 204.1 486.3 204 486.3 204 486.4 204 486.3 204.1Z" fill="#73ff8c" fill-rule="evenodd"/>
<path d="M470.3 182 468.3 182 465.3 179.6 461.3 180 459.3 179.6 458.3 179 454.1 175 452.1 172 450.1 168 447.5 160 446.9 155 447.9 151 451.3 143 452 140 452.1 137 451.2 133 450.2 131 448.6 129 445.3 126.5 434.6 121 424.3 114 416 103 410.3 91 407.3 86.6 406.3 86 404.3 85.6 398.3 86.9 396.3 86.7 390.7 82 388.3 80.6 384.3 79.2 376.3 77.3 373.3 75.9 370.3 73.8 368.3 71.4 366.7 68 365.4 61 365.7 57 366.8 55 370.8 52 377.3 49.1 381.3 48.2 393.3 46.8 394.8 46 395.7 45 396.1 44 396.2 42 395.5 40 394.3 38.6 387.3 33.6 384.6 28 382.3 25.4 380.3 24.4 377.3 23.7 369.3 24.4 367.3 24.2 365.3 23.2 363 21 525.3 20.6 525.7 21 525.3 167.6 517 173 512.6 175 507.3 176.7 501.3 177.7 485.3 179.1 480.3 180.6 474.3 180.9 470.3 182ZM465.3 186 463.3 185.6 462.6 185 462.6 184 464.3 183.1 466.3 183.2 467 184 466.7 185 465.3 186ZM441.3 209.2 439.3 209.6 437.3 209 436.1 207 436 205 436.5 202 437.5 200 439.3 198.4 442.3 197.7 443.3 198 444.5 199 445.3 201 445.3 203 444.8 205 443.8 207 441.3 209.2Z" fill="#59ffa6" fill-rule="evenodd"/>
<path d="M481.3 179.2 470.3 179.6 465.3 178.2 461.3 177.6 459.3 176.8 457.3 175.3 454.4 172 452.3 168.6 450.8 165 449.3 160 448.8 156 449.6 152 453.6 144 455 139 455.2 134 453.6 129 450.3 124.7 442.3 118.3 430.3 111.8 425.3 107.6 419.3 100.8 416.3 96.5 411.7 87 409.9 82 408.6 80 406.3 79.4 401.3 80.1 398.3 80.1 391.3 77.7 377.3 75.6 372.3 73.1 369.3 69.8 367.7 65 367.5 60 368.7 57 371.3 54.5 376.3 51.7 381.3 50.3 386.3 50 395.3 50.7 398.3 50.3 400.7 49 402.7 46 404.2 41 404.1 39 403.4 37 401.2 34 394.3 28.1 389.7 21 525.3 20.6 525.7 21 525.3 160.7 521.6 165 517.1 169 512.6 172 508.5 174 501.3 176.2 481.3 179.2ZM436.6 55 438.4 54 440.3 52 441 50 440.8 47 439.9 45 438.3 43.4 436.3 42.5 433.3 42.6 431.3 43.8 429.3 46.4 428.3 49 428.2 52 429.2 54 431.3 55.5 433.3 55.9 436.6 55ZM441.3 207.2 440.3 207.5 438.6 207 437.9 206 437.5 204 438.5 201 439.8 200 441.3 199.6 442.3 199.9 443.3 200.9 443.8 203 443.3 205.1 441.3 207.2Z" fill="#40ffbf" fill-rule="evenodd"/>
<path d="M482.3 178.1 478.3 178.5 471.3 178.3 464.3 176.8 461.3 175.8 458.3 173.5 455.4 170 453.1 166 451.8 162 450.8 157 451.1 154 452.4 151 455.9 145 457.5 141 459.5 133 459.9 124 460.6 122 463.9 118 464.4 116 464 115 462.3 113.5 459.3 112.4 455.3 112 448.3 112.5 445.3 112.3 440.3 111.3 436.3 109.6 431.5 106 421.3 95.9 418.3 91.6 415.9 86 415.8 84 416.4 82 420.6 76 421.5 74 421.8 71 421.2 65 421.6 63 422.3 62.1 424.3 61.4 431.3 61.4 437.3 60.3 443.3 57.6 445.3 56 446.8 54 448.1 51 448.6 47 448.1 43 446.8 39 445.3 36.6 442.9 34 440.3 32 437.3 30.5 432.3 28.9 418.3 26.4 412.3 24.1 406.5 21 525.3 20.7 525.6 21 525.3 127.2 524.2 130 524.4 144 523.8 149 522.9 153 521 158 518 163 514.4 167 509.2 171 504.3 173.6 500 175 482.3 178.1ZM390.3 74.1 385.3 74.4 379.3 74.2 375.3 73 372.3 71 370.1 68 369.1 64 369.6 60 371.3 57.2 374.3 54.9 377.3 53.3 380.3 52.3 384.3 51.9 388.3 52.5 393.4 54 398.3 56 404.1 59 405.4 61 405.3 65 404.1 69 402.3 71.8 401.3 72.5 399.3 73.3 390.3 74.1ZM415.3 57.3 412.3 57.7 410.1 57 409.4 56 409.3 55 410.2 53 411.3 51.9 412.3 51.4 414.3 51.2 416.3 52.4 417 55 416.3 56.6 415.3 57.3ZM441.3 204.4 440.3 204.9 439.3 204 439.3 202.9 440.3 201.9 441.3 202.1 441.8 203 441.3 204.4Z" fill="#26ffd9" fill-rule="evenodd"/>
<path d="M484.3 177.1 478.3 177.5 473.3 177.3 465.3 175.9 463.1 175 459.7 172 455.3 165.5 453.7 161 453.1 157 453.2 155 453.9 153 458.2 146 462.3 137.5 465.3 132.6 469.3 128 476.1 122 481.8 116 478.9 114 470.3 110 464.3 105.7 462.3 104.8 458.3 104.9 449.3 107.4 446.3 107.9 443.3 107.8 440.3 106.9 437.5 105 435.6 103 431.3 96 427.1 91 425.2 88 424.9 86 425.1 85 426.7 83 434 76 435.1 74 436.3 69 437.6 67 441.3 64 447.3 61.2 450.6 59 457.8 53 459.4 50 459.6 47 459.2 45 455.9 38 453.1 33 450.3 29.4 447.3 26.3 440.2 21 525.3 20.7 525.6 21 525.3 110.1 512.3 105.6 508.3 104.8 505.3 104.8 502.3 105.6 496.3 108.6 488 111 484.8 113 482.8 115 482.5 116 488.8 120 500.3 125.9 507.3 129 511 132 514.2 137 516.8 144 517.6 150 516.8 156 515.4 160 512.9 164 509.1 168 505.3 170.8 501.3 172.9 497.3 174.3 484.3 177.1ZM386.3 72.1 381.3 72.6 378.3 72.3 375.3 71.2 372.6 69 371 66 370.7 63 371.6 60 373.3 57.9 375.3 56.3 378.3 54.8 383.3 53.8 386.3 54.2 389.3 55.3 392.2 57 394.6 59 396.2 61 397.1 63 397.1 65 396.3 67 394.2 69 392.5 70 386.3 72.1Z" fill="#0dfff2" fill-rule="evenodd"/>
<path d="M475.3 104.1 473.3 104 472.6 103 472 101 471.5 96 470.7 94 468.9 92 466.3 90.6 464.3 90.6 462.3 91.6 457.7 98 455.3 100.1 451.3 102.1 446.3 103.4 443.3 103.2 440.3 101.2 438.2 98 436.4 93 435.8 89 436.2 86 438.3 82.3 441.3 79.8 445.3 78.3 448.3 78.1 452.3 78.8 460.3 81 463.3 81.1 465.3 80.1 466.3 79.2 467.7 77 468.4 75 470.2 56 469.8 51 468.4 45 466.5 40 463.3 34.3 458.2 27 453 21 525.3 20.7 525.6 21 525.3 101.9 511.3 97.2 501.3 93 494.3 91.8 493.3 91.2 487.9 83 485.3 80.7 482.3 79.6 480.3 80.3 479.3 81.3 478.2 84 477.8 87 477.9 91 478.7 93 481.1 97 481 99 478.6 102 475.3 104.1ZM385.3 70.1 382.3 70.7 379.3 70.7 376.3 69.9 374.3 68.4 372.7 66 372.4 64 373.1 61 374.7 59 378.3 56.7 382.3 55.7 386.3 56.6 389.8 59 391.5 62 391.5 65 389.3 68 385.3 70.1ZM486.3 176 480.3 176.5 474.3 176.5 464.5 174 461.9 171 458.2 164 456.6 160 456.1 157 456.7 154 464.3 140.5 466.8 137 477.3 127.5 481.3 125.3 484.3 124.7 488.3 125.2 492.3 126.6 502.2 131 505 133 507.1 136 510.9 144 512.3 148 513 152 512.7 156 511.5 160 509.1 164 505.4 168 501.3 171 497.3 172.9 486.3 176Z" fill="#00f2ff" fill-rule="evenodd"/>
<path d="M525.3 95.4 509.3 90.6 502.2 88 498.3 85.2 490.7 77 485.7 70 481.9 63 471.3 36 467.3 28.7 462 21 525.5 21 525.3 95.4ZM384.3 68.1 380.3 69 378.3 68.7 376.3 67.8 375.3 66.9 374.3 65 374.4 63 375.5 61 377.3 59.4 380.3 58.2 383.3 58.2 385.3 59.1 387.2 61 387.7 64 386.9 66 384.3 68.1ZM449.3 97 447.3 97.3 445.3 96.9 443.3 95.4 442.6 94 442 91 442.4 88 443.6 86 445.3 85.1 447.3 84.8 450.3 85.1 452.3 86 453.9 88 454.3 91 453.6 94 452.3 95.6 449.3 97ZM486.3 175.2 483.3 175.6 474.3 175.5 467.5 173 466.3 172.2 464.9 170 464.6 164 462 159 461.5 156 462.2 152 464.1 147 466.1 143 468.3 139.8 471 137 478.3 131 481.3 129.3 484.3 128.6 487.3 128.8 490.3 129.6 498.1 133 501.1 135 503.3 138 507.7 147 508.7 150 509.2 153 509 157 508 160 505.8 164 503.2 167 499.4 170 496.3 171.7 486.3 175.2Z" fill="#00d9ff" fill-rule="evenodd"/>
<path d="M525.3 89.6 511.4 86 505.2 84 502.4 82 493.3 73 490.8 69 486.7 61 480.9 44 474.5 30 469.5 21 525.5 21 525.3 89.6ZM381.3 66.4 379.3 66.6 377.3 65.7 376.7 64 377.3 62.6 378.3 61.7 380.3 61 381.3 61 383.3 62.3 383.7 64 383.3 65 381.3 66.4ZM486.3 174.3 484.3 174.7 475.3 174.5 471.9 173 469.5 171 468.7 169 468.5 163 466.6 157 466.1 153 466.4 150 467.2 147 468.6 144 470.7 141 473.8 138 479.3 133.7 482.3 132.2 484.3 131.8 487.3 132 490.3 132.9 495.3 135.1 498.3 137.1 500.6 140 504.1 147 505.6 151 506 154 505.8 157 504.5 161 502.7 164 500.3 166.8 497.7 169 494.5 171 486.3 174.3Z" fill="#00bfff" fill-rule="evenodd"/>
<path d="M525.3 84.1 515.3 81.6 509.3 79.3 498.3 72 495.3 69 489.4 58 483.3 37.8 479.8 29 476 21 525.5 21 525.3 84.1ZM486.3 173.1 483.3 173.5 476.4 173 474.3 172.1 473.3 171 472.5 169 472.3 164 470 157 469.2 152 470.2 147 471.6 144 473.3 141.8 476.3 139 480.3 136.2 483.3 135 485.3 134.8 488.3 135.2 492.3 136.6 495.3 138.3 497.2 140 499.3 143 501.2 147 502.6 151 503 154 502.8 157 501.9 160 499 165 494.3 169.2 486.3 173.1Z" fill="#00a6ff" fill-rule="evenodd"/>
<path d="M525.3 78.5 517.3 76.6 511.3 74.4 501.3 69.2 497.3 66 494 60 491.8 55 487 35 482 21 525.5 21 525.3 78.5ZM484.3 172.1 479.3 171.4 476.8 170 476 168 475.6 164 472.5 156 472.1 151 473.4 146 476.5 142 481.3 138.7 483.3 138 486.3 137.7 489.3 138.2 492.3 139.4 494.3 140.7 496.3 142.7 497.8 145 499.3 149 500 155 499.6 158 498.6 161 496.8 164 495.1 166 492.9 168 489.7 170 486.3 171.6 484.3 172.1Z" fill="#008cff" fill-rule="evenodd"/>
<path d="M525.3 72.9 516.3 70.7 508.3 67.7 502.3 64.7 499.4 62 496.7 57 495.2 53 491.3 33 487.8 21 525.4 21 525.3 72.9ZM487.3 169.1 485.3 169.8 483.3 170 481.3 169.4 479.7 168 475.5 157 474.8 153 475.2 149 477.3 145 481.3 141.8 485.3 140.6 487.3 140.7 490.3 141.5 494.1 144 496 147 497.1 152 496.6 158 495.1 162 491.9 166 487.3 169.1Z" fill="#0073ff" fill-rule="evenodd"/>
<path d="M525.3 66.9 517.3 65.1 510.3 62.7 505.4 60 502.6 57 500.4 53 499.2 49 496 31 493.5 21 525.4 21 525.3 66.9ZM487.3 166 484.3 166.5 482.3 165.3 479 159 477.7 154 478.1 150 479.3 147.4 481.9 145 485.3 143.8 488.3 144.1 491.7 146 493.3 148.5 494 152 493.8 157 492.9 160 490.3 163.8 487.3 166Z" fill="#0059ff" fill-rule="evenodd"/>
<path d="M525.3 60.2 518.3 58.4 513.3 56.4 509.8 54 507.3 51.1 505.7 48 504.3 43.7 499.7 21 525.4 21 525.3 60.2ZM486.3 161.2 484.3 160.7 483.3 159.8 481.7 157 481 154 481.3 152 482.2 150 483.3 148.9 485.3 148 487.3 148.2 488.6 149 490 151 490.5 153 490.4 156 489.3 158.9 488.3 160.2 486.3 161.2Z" fill="#0040ff" fill-rule="evenodd"/>
<path d="M525.3 51.9 521.3 50.4 518.3 48.7 515.3 46.1 513.3 43.5 510.3 36.3 506.5 21 525.4 21 525.3 51.9Z" fill="#0026ff" fill-rule="evenodd"/>
<path d="M525.3 40 522.1 37 519.4 33 517.3 28.4 514.7 21 525.3 21 525.3 40Z" fill="#000dff" fill-rule="evenodd"/>
<path d="M353.5 136 355 135 355.9 133 355.7 131 354.3 129 352.3 128.2 349.3 128.1 346.3 128.9 344.9 130 344.3 131 344.3 133 346.3 135.4 349.3 136.4 353.5 136ZM379.8 147 382.3 146.1 383.5 145 384.2 143 383.9 141 382.3 138 379.3 134.2 377.3 132 375.3 130.7 373.3 130.7 369.3 132.6 367.3 132.7 364.3 130.2 359.2 124 357.3 122.8 355.3 122.4 342.3 123.2 339.3 124.6 337.5 127 336.9 130 337.9 134 340.5 137 345.3 139.8 366.8 146 374 147 379.8 147ZM385.1 151 387.3 149.6 388.6 148 389.3 145 388.8 142 387.6 139 381.3 128.5 378.4 125 376.3 123.5 374.3 123.1 369.3 124.8 366.3 124.7 358.3 119.6 350.9 117 347.6 115 345 112 343.5 109 343 106 342.7 99 341.7 95 340.3 92.9 338.3 91.3 334.3 90 329.3 89.8 325.3 91.1 321.5 94 320.4 96 320.3 99 321.3 102 324.4 108 324.7 111 322 117 320.3 119 316.8 122 316.4 124 317.3 125.3 318.4 126 323.3 127.4 326.3 129 329.3 132.1 332.5 137 335.3 139.9 338.3 141.7 345.3 144.5 355.3 146.8 367.3 150.3 380.3 151.8 383.3 151.6 385.1 151ZM407.5 176 409.3 175.1 409.9 174 410.1 165 411.3 162.2 412.6 161 414.3 160.5 415.3 160.6 418.3 162 420.3 161.9 421.3 161 422.1 159 422.1 158 421.3 156.5 420.3 156 413.3 155.6 407.3 152.9 405.3 152.9 404.3 153.9 403.9 156 403.7 162 402.8 165 400.5 170 400.4 172 401.5 174 403.3 175.4 405.3 176.1 407.5 176ZM303.3 157.8 311.3 155.2 321.3 153.3 324.3 153 331.3 153.7 334.3 153.2 340.3 151.2 346.3 150.1 350.3 149.8 355.3 150.2 365.3 153.1 374.3 155 376.5 156 379.1 158 380.3 160 380.6 163 380.1 166 378.6 171 378.4 174 381.6 182 383.3 184.5 385.3 186 388.3 186.1 395.3 183.9 405.3 184.9 419.3 183.6 422.3 182.9 424.3 181.9 425.3 181 426.1 179 425.9 170 427.3 161.4 427.5 158 427 155 425.3 152.4 423.3 151.5 417.3 149.8 408.3 144.9 402.3 143.1 397.3 142.3 395.3 141.4 393.3 139.7 391.3 137.4 388.1 133 383.8 126 380.7 123 377.3 121.1 375.3 120.5 368.3 121 366.3 120.6 363.3 119.2 358.6 116 355.1 113 353.5 111 345.6 93 343.6 90 341.3 88.1 334.3 84.7 330.3 83.5 326.3 83.4 320.3 85 318.3 85 314.3 80.6 303.3 73.4M303.3 185.5 312.3 178.6 331.3 167.5 335.3 164.2 341 158 343.5 156 349.3 153.4 352.3 152.9 355.3 153 360.3 154 367.3 156.5 370.6 158 373.4 160 374.7 162 375 164 372.6 172 372.6 175 374.9 180 377.5 188 379.3 191 382.3 193.6 386.3 194.9 390.3 194.6 421.3 186.5 424.3 185.4 426.3 184.1 428 182 428.7 180 429 171 430.3 160 430.1 157 429.4 154 428.3 152 426.3 150.2 418.4 147 411.3 142.1 399.3 137.9 396.3 136.4 392.3 132.7 386 124 381.3 120.6 376.3 118.4 367.3 117.1 363.1 115 361.1 112 358.7 105 347.8 88 345.3 85.5 338.3 80.6 330.3 72.7 327.3 70.7 320.3 67.6 315.9 65 303.3 59.7M305.6 227 306.1 219 307.5 212 310 205 313.6 198 317 193 321 188 336.3 171.8 344.3 160 348.2 157 350.3 156.1 353.3 155.5 358.3 155.9 364 158 368.1 161 369.4 163 369.7 165 369.1 168 367.4 173 367.2 177 367.8 180 372.3 193 375.1 198 378.3 201.1 382.3 203.1 386.3 203.7 390.3 203.3 395.3 201.7 399.3 199.7 406.3 195.4 423.3 188.7 428.3 186 430 184 431 181 431.4 172 432.5 164 432.7 160 432.3 156 431.5 153 430.3 150.8 428.6 149 426.3 147.7 420.3 145.4 412.3 139.5 401.7 135 398.3 133.2 395.3 130.7 389.5 124 386.3 121 379.3 117.1 372.3 114.6 369.8 113 368.3 111 366.7 106 365.7 104 358.8 96 352.4 87 349.7 84 341.9 77 333.3 67.1 330.3 65.2 319.3 60.4 303.3 50.3M462.4 213 464.3 210 467.4 204 467.4 202 466.7 201 465.3 200.2 463.3 200.1 460.3 201.1 458.4 203 457.3 205.9 457.3 209.6 458.3 212.4 459.3 213.6 460.3 214 461.3 213.8 462.4 213ZM328.3 227 326.8 220 326.4 213 327.2 206 328.9 199 333 189 342.1 173 345.5 164 347.3 161.3 349.3 159.6 353.3 158.1 358.3 158.3 362.1 160 363.4 161 365 163 365.4 166 362.9 174 362.7 179 364.9 196 366.6 203 368.9 208 372.3 212.1 374.3 213.6 377.3 215 382.3 215.8 387.3 215 393.3 212.4 398.3 209 406.2 202 411.8 198 418.7 194 428.3 189.4 431.6 187 432.9 185 433.5 182 433.7 173 435 164 434.6 157 433.2 151 432 149 430.3 147.2 427.3 145.6 422.3 144 414.3 137.7 401.6 131 398.3 128.5 389.3 120.2 380.7 115 376.7 112 375.1 110 373.5 106 372.3 104.2 363.2 95 355.7 85 347.4 77 337.3 64.9 335.2 63 332.3 61.2 324.3 58.1 321.3 56.5 311.3 47.2 303.3 40.6M486.3 227 475.3 222.9 472.3 221.1 470.2 219 468.3 215.4 467.9 211 468.8 208 471.5 204 471.8 201 470.5 199 469.3 198.1 465.3 197.1 462.3 197.8 459.8 199 457.4 201 455.9 203 454.4 208 453 220 450.7 227M400 227 402 222 405.4 216 409.6 210 416.7 201 419.6 198 423.3 195.1 430.3 191.5 433.3 189.5 435 188 436.1 186 437 182 436.6 173 437.3 163 436.3 153.8 434.7 148 433.3 145.9 431.3 144.1 429.3 143.1 423.3 141.1 417.3 136.2 405.3 129.1 395.5 121 383.2 113 380.7 110 376.2 103 365.2 92 358.4 83 351.4 76 345.6 68 341.1 63 337.3 59.3 334.3 57.1 324.3 51.9 313.3 38.8 303.3 29.1M350.3 196.3 348.3 196.3 347.3 195.7 345.5 193 344.6 188 345.1 183 347.6 174 348.3 167 349.4 164 350.3 162.8 352.3 161.5 354.3 160.9 357.3 160.9 359.3 161.6 360.7 163 361.5 165 361.3 167 358.7 174 358 183 356.3 189 353.3 194.2 350.3 196.3ZM526.3 211.2 522.3 212.1 519.3 213.6 511.9 220 507.3 222.8 502.3 224 498.3 223.6 495.3 222.4 489.3 218.4 482.3 218.3 478.7 217 475.6 215 473.3 212.1 472.9 210 475.5 203 475.6 201 475.1 199 473.4 197 471.4 196 467.3 195.1 464.3 195.2 461.3 196.2 458.3 197.9 455.9 200 454.4 202 453.1 205 449.9 216 447.3 220.7 443.2 227M417.4 227 416.3 225 415.8 223 416 218 417 215 419.9 209 422.7 202 425.8 198 434.3 192 437.7 189 440.5 185 442.1 181 442.1 179 440.3 172 439.8 164 437.9 148 436.7 144 435.3 142 432.3 139.6 426.3 137 416.3 131.7 410.5 128 406.9 125 402.3 119.8 400.3 118.1 392.3 114.6 387.2 111 381.3 103 374.7 97 365.3 87.1 360.3 80.2 355.1 74 350.3 66 341.7 57 335.8 49 327.3 41 316.3 28.8 307.6 20M526.3 195 517.3 193.8 508.3 191.6 502.3 189.3 495 185 493.3 184.5 491.3 184.7 490 186 489.7 187 490 189 491.3 190.4 495.9 193 496.9 194 497.8 196 497.8 199 494.8 210 494.9 212 496.5 214 495.3 214.7 494.3 213 493.3 212.7 485.3 214.8 483.3 214.6 481.3 213.7 478.9 211 478.1 207 478.8 199 478.4 197 477.3 195.5 474.3 194 469.3 193.3 465.3 193.4 461.3 194.3 457.3 196.5 453.6 200 451.9 203 449.3 211 447.3 214.7 438.3 224.1 435 227M526.3 186.2 518.3 186.5 511.3 186.1 505.3 185.1 495.3 182.6 491.3 182.4 489.1 183 487.6 184 484.3 188.7 483.3 189.7 481.3 190.8 478.3 191.2 466.3 191.6 460.3 192.8 456.3 195 452.3 198.5 450.4 202 447.7 210 446.3 212.2 444.3 214.2 435.3 220.2 432.3 221.7 429.3 222.1 427.3 221.8 426 221 424.3 218.9 423.8 217 423.7 215 425.2 209 427.7 203 429.6 200 432.2 197 440.5 190 443.5 187 445.7 184 446.8 181 446.4 178 443.5 171 441.1 158 440.7 153 441.2 144 440.3 140 438.3 137.2 435.3 134.9 418.3 128 414.3 125.6 411.7 123 407.5 115 405 112 402.3 110.2 395.3 109.4 393.3 108.8 391.3 107.7 389.3 105.8 384.3 99.7 378.1 95 374.3 89.6 368.1 85 360.9 75 356.1 65 350.2 58 348.2 55 347.2 52 346.9 45 345.3 41.4 342.3 38.2 330.3 28.3 321.9 20M487.3 212.2 484.3 212.1 482.5 211 481 208 480.8 205 481.7 200 483.3 197.2 486.3 195.2 489.3 195 491.3 195.6 492.3 196.7 492.6 200 491.9 206 490.8 209 489.4 211 487.3 212.2ZM526.3 179.2 518.3 181 511.3 181.8 505.3 181.8 494.3 180.7 488.3 181.2 485.5 182 480.3 186 476.3 188.1 458.3 191.4 453.3 193.8 450.8 196 449.3 199.2 447.2 207 446.2 209 444.3 211.4 441.3 213.2 435.3 215.2 432.3 215.7 430.3 215.2 429.5 213 430 209 431.2 205 433.9 199 437.3 195.3 444.6 191 447 189 449.3 185.4 450.5 182 450.2 179 446.3 170 443 157 443.1 152 445.3 143 445.1 139 444.1 136 442.6 134 439.8 132 421.3 124 417.3 121.2 415.8 119 413.5 114 407.8 105 404.3 95.7 403.3 95.2 401.1 99 398.3 101.2 395.3 101.7 393.3 101.1 390.8 99 381.8 87 379.8 85 378.1 84 372.3 82.2 368.3 79.4 365.5 76 363.8 73 361.2 65 357.4 58 356.3 55 356.2 53 356.7 51 359.6 46 359.7 45 346.3 30.1 336.6 20M487.3 210 485.3 210 484 209 483.1 207 482.9 205 483.3 202.8 484.3 200.7 485.3 199.8 487.3 199.3 488.3 199.5 489.3 200.6 489.9 204 489.1 208 488.3 209.3 487.3 210ZM526.3 172.5 518.5 176 511.3 178.1 504.3 179.1 493.3 179.3 485.3 180 477.3 183.3 474.6 185 466.3 187.9 463.3 188.2 455.2 188 454.6 187 455.4 182 455 180 451.3 174.5 449 170 446.1 161 445.2 157 445.3 152.9 448.2 145 449.1 141 449 137 447.6 133 446 131 443.3 129.1 431.9 124 424.3 119.6 421.3 117.2 413 105 408.7 94 406.3 90.8 404.3 90 402.3 90.2 399.7 92 397.6 95 395.6 95 393.5 93 389.3 86.6 386.9 84 382.3 81.4 373.3 78.5 370.3 76.6 368.3 74.7 366.3 71.7 364.9 68 362.4 58 362.3 56 362.9 54 365.3 51.7 369.3 49.5 377.3 46.3 383.3 44.8 384.5 44 385.1 43 385.1 42 384.5 41 381.3 38.4 379.3 37 377.3 36.2 373.3 36.1 366.3 37.5 364.3 37.3 362.3 36.3 358.3 32 350.1 20M440.3 211.3 437.3 211.5 435.3 210.7 434.3 209.4 434 208 434.3 205 435.8 200 437.3 198 440.3 196 442.3 195.5 444.3 195.7 445.3 196.2 446.6 198 446.8 201 446.3 204.5 445.4 207 444 209 442.3 210.4 440.3 211.3ZM486.3 204.1 486.3 204 486.3 204 486.4 204 486.3 204.1ZM526.3 164.7 521.2 169 514.7 173 508.3 175.6 502.3 177.1 485.3 178.9 479.3 180.3 475.3 180.1 470.3 181 468.3 180.6 465.3 179 460.3 178.8 458.3 177.9 456.3 176.3 453.5 173 451.2 169 449 163 447.5 157 447.9 153 451.8 144 453 139 452.7 134 451.6 131 450.2 129 447.3 126.3 436.3 120 427.3 114.2 424.7 112 416.3 101.1 413.3 95.6 410.3 88.9 408.3 85.4 407.3 84.5 404.3 83.8 399.3 84.8 397.3 84.8 391.8 81 389.3 79.7 385.3 78.5 377.3 76.9 374.3 75.7 370.3 73 368.2 70 366.8 66 366.1 60 366.7 57 368.3 54.8 372.5 52 378.3 49.6 384.3 48.6 394.5 48 396.3 47.1 397.3 46.2 398.4 44 398.4 41 397 38 390 32 386.3 25.8 384.3 23.4 381.3 21.3 377.7 20M441.3 208.6 439.3 209 437.4 208 436.8 207 436.5 205 437 202 438.1 200 439.3 199 441.3 198.3 443.5 199 444.3 200 444.8 202 444.7 204 443.9 206 442.3 208 441.3 208.6ZM526.3 149.4 522.9 158 520.4 162 518 165 512.3 170 508.3 172.4 504.3 174.2 496.3 176.2 478.3 178.8 469.3 178.4 461.3 176.4 457.8 174 455.3 171 452.5 166 450.8 161 450.1 157 450.7 153 455.5 144 456.8 140 457.7 136 457.9 132 457.5 129 454.9 122 455.4 117 454.8 116 453.3 115.2 448.3 114.8 440.3 112.9 437.3 111.8 434.3 110.2 428.3 105.5 421.3 98.5 418.6 95 414.4 87 413.7 84 414.4 81 418.3 75 419.1 72 418.8 66 418.3 63.9 417.3 62 415.8 61 413.3 60.6 411.3 60.8 409.3 61.7 407.9 64 406.2 70 404.9 73 403.3 74.7 401.3 75.5 398.3 75.6 393.3 75 385.3 75.1 378.3 74.6 375.3 73.6 372.7 72 370.7 70 369.6 68 368.5 63 368.9 60 369.8 58 371.6 56 374.3 54.1 377.3 52.6 380.3 51.7 383.3 51.3 387.3 51.5 401.3 54.8 403.3 54.9 404.9 54 408.3 49.8 410.3 48.2 414.3 46.6 417.3 46 418.3 46.1 419.4 47 421.8 56 423.3 57.4 426.3 58.7 431.3 59.6 436.1 59 442.3 56.4 444.7 54 445.6 52 446.3 49 445.9 44 444.2 40 442.3 37.6 440.3 35.9 436.3 34 432.3 33.2 428.3 33.4 421.3 34.7 418.3 34.1 414.3 32 404.3 25.7 400.8 23 397.9 20M441.3 205.6 440.3 205.9 439.3 205.5 438.6 204 439.1 202 440.3 201.1 441.3 201.1 442.3 201.9 442.6 203 442.3 204.4 441.3 205.6ZM526.3 110.4 512.3 105.6 508.3 104.8 505.3 104.8 502.3 105.6 496.3 108.6 488 111 484.8 113 482.8 115 482.5 116 488.8 120 500.3 125.9 507.3 129 511 132 513.7 136 515.5 140 517 145 517.5 149 517.4 153 516.6 157 514.8 161 512.9 164 510.2 167 505 171 500.3 173.3 494.9 175 484.3 177.1 478.3 177.5 471.3 177.1 464.3 175.6 460.6 173 456.3 167.2 454.6 164 453.1 158 453.5 154 458.2 146 462.3 137.5 465.3 132.6 469.3 128 476.1 122 481.8 116 478.9 114 470.3 110 464.3 105.7 462.3 104.8 458.3 104.9 449.3 107.4 446.3 107.9 443.3 107.8 440.3 106.9 437.5 105 435.6 103 431.3 96 427.1 91 425.2 88 424.9 86 425.1 85 426.7 83 434 76 435.1 74 436.3 69 437.6 67 441.3 64 447.3 61.2 450.6 59 457.8 53 459.4 50 459.6 47 459.2 45 455.4 37 452.4 32 449.3 28.3 446.3 25.4 438.5 20M386.3 72.1 381.3 72.6 378.3 72.3 375.3 71.2 372.6 69 371 66 370.7 63 371.6 60 373.3 57.9 375.3 56.3 378.3 54.8 383.3 53.8 386.3 54.2 389.3 55.3 392.2 57 394.6 59 396.2 61 397.1 63 397.1 65 396.3 67 394.2 69 392.5 70 386.3 72.1ZM526.3 100 510.3 94.7 497.3 89.3 495.3 87.8 487.3 78.9 482.3 74.6 479.3 73.9 477.3 74.3 474.3 76.3 473.3 75.6 473.8 71 473.1 65 473.3 57 472.3 51 469.9 43 467.9 38 464.3 31.7 460.3 26 455.3 20M382.3 70.1 379.3 70.2 375.9 69 373.9 67 373 64 373.9 61 375.6 59 379.3 57 382.3 56.5 385.2 57 387.3 58.2 389.2 60 390.3 63 390.1 65 388.3 67.5 386.1 69 382.3 70.1ZM449.3 101.1 445.3 101.7 442.3 100.5 440.8 99 439.6 97 438 92 437.9 88 439.3 84.3 441.6 82 445.3 80.5 450.3 80.5 455.3 82 458.6 84 459.6 85 460.5 87 459.4 91 456.2 97 453.3 99.4 449.3 101.1ZM472.3 85.1 471.3 84 472.3 83 472.7 84 472.3 85.1ZM484.3 176.1 474.3 176.2 465.3 173.7 463 171 461.1 166 458.3 160.5 457.5 157 457.8 155 458.7 153 464.5 142 467.3 138 478.3 128.4 482.3 126.5 485.3 126.1 488.3 126.6 493.3 128.4 501.3 132 504 134 505.9 137 510.5 147 511.5 151 511.7 154 511 158 509.3 162 506.3 166 503.1 169 500.1 171 495.8 173 484.3 176.1ZM526.3 91.8 508.6 87 503.3 85.1 493 75 489.7 70 485.1 61 479.8 46 474 33 470.3 26.1 466.5 20M382.3 67.1 379.3 67.5 377.6 67 376.4 66 375.8 64 376.3 62.4 377.3 61.3 379.3 60.2 381.3 59.9 383.3 60.4 384.3 61.2 385.2 63 385.2 64 384 66 382.3 67.1ZM484.3 175 474.3 174.7 470.6 173 468.1 171 467.4 169 467.5 164 465.5 158 464.9 153 465.3 150 466.6 146 468.2 143 470.5 140 479.3 132.6 482.3 131.2 485.3 130.8 489.3 131.5 494.3 133.5 497.3 135.1 499.7 137 501.3 139.2 505.7 148 506.9 152 507.1 155 506.6 158 505 162 502.9 165 500 168 497.3 170 493.4 172 484.3 175ZM526.3 84.3 515.3 81.6 509.3 79.3 498.3 72 495.3 69 489.4 58 483.3 37.8 479.3 27.8 475.5 20M486.3 173.1 483.3 173.5 476.4 173 474.3 172.1 473.3 171 472.5 169 472.3 164 470 157 469.2 152 470.2 147 471.6 144 473.3 141.8 476.3 139 480.3 136.2 483.3 135 485.3 134.8 488.3 135.2 492.3 136.6 495.3 138.3 497.2 140 499.3 143 501.2 147 502.6 151 503 154 502.8 157 501.9 160 499 165 494.3 169.2 486.3 173.1ZM526.3 76.9 518.3 75 512.3 73 502.3 68.2 498.1 65 493 55 488.3 33.9 483.5 20M485.3 171.3 483.3 171.5 480.5 171 478.4 170 477.5 169 476.5 164 473.4 156 472.9 152 474 147 475 145 476.7 143 481.3 139.7 483.3 139 486.3 138.6 491.3 139.9 493.3 141 495.5 143 496.9 145 498.1 148 499 152 499 155 498 160 496.5 163 495 165 490.3 169 485.3 171.3ZM526.3 69.1 517.3 67.1 509.3 64.4 504.3 61.7 501.3 58.6 499.3 55 497.6 50 494.2 31 491.3 20M487.3 167.2 484.3 167.9 482.3 167.2 481.3 166.2 477.7 158 476.7 154 477 150 478.3 147 481.3 144.1 483.3 143.1 485.3 142.7 489.3 143.2 492.3 145 494.3 148 495.1 152 494.8 157 493.5 161 490.5 165 487.3 167.2ZM526.3 60.4 519.3 58.7 514.3 56.9 510.3 54.4 507.3 51.1 505.7 48 504.3 43.7 499.4 20M486.3 161.2 484.3 160.7 483.3 159.8 481.7 157 481 154 481.3 152 482.2 150 483.3 148.9 485.3 148 487.3 148.2 488.6 149 490 151 490.5 153 490.4 156 489.3 158.9 488.3 160.2 486.3 161.2ZM526.3 48.9 522.3 47.1 519.3 45 517.3 43 515.3 40.2 512.3 33 508.8 20M526.3 29.4 523.4 25 521 20" fill="none" stroke="#1a1008" stroke-width="0.55" stroke-opacity="0.8"/>
<path d="M303.92 10.56 L311.23 11.14 L316.54 11.53 L321.85 11.9 L327.16 12.26 L332.48 12.59 L337.79 12.9 L343.11 13.19 L348.43 13.45 L353.75 13.7 L359.07 13.92 L364.39 14.12 L369.71 14.31 L375.03 14.47 L380.35 14.6 L385.68 14.72 L391 14.82 L396.33 14.89 L401.65 14.95 L406.98 14.98 L412.3 14.99 L417.62 14.98 L422.95 14.95 L428.27 14.89 L433.6 14.82 L438.92 14.72 L444.25 14.6 L449.57 14.47 L454.89 14.31 L460.21 14.12 L465.53 13.92 L470.85 13.7 L476.17 13.45 L481.49 13.19 L486.81 12.9 L492.12 12.59 L497.44 12.26 L502.75 11.9 L508.06 11.53 L513.37 11.14 L520.68 10.56 L538.47 231.97 L530.28 232.62 L524.08 233.08 L517.88 233.51 L511.68 233.92 L505.48 234.31 L499.27 234.67 L493.07 235.01 L486.86 235.32 L480.65 235.6 L474.44 235.87 L468.23 236.1 L462.02 236.31 L455.8 236.5 L449.59 236.66 L443.38 236.8 L437.16 236.91 L430.95 237 L424.73 237.06 L418.52 237.1 L412.3 237.11 L406.08 237.1 L399.87 237.06 L393.65 237 L387.44 236.91 L381.22 236.8 L375.01 236.66 L368.8 236.5 L362.58 236.31 L356.37 236.1 L350.16 235.87 L343.95 235.6 L337.74 235.32 L331.53 235.01 L325.33 234.67 L319.12 234.31 L312.92 233.92 L306.72 233.51 L300.52 233.08 L294.32 232.62 L286.13 231.97Z M313.8 51.5 L323.1 51.2 L328.3 50.2 L333.3 48.8 L338.3 46.8 L346.2 43.5 L354.2 39.8 L359.4 34.5 L364.7 33.2 L370 30.6 L377.9 28.6 L388.5 25.9 L393.6 25.6 L397.5 26.9 L398.9 30.9 L400.2 36.1 L402.2 40.8 L408.1 42.1 L413.4 42.7 L416.7 44.7 L420 42.7 L425.3 40.8 L427.9 39.4 L433.2 39.4 L441.1 40.1 L448.3 40.8 L453.2 41.5 L464.8 41.5 L476.3 40.2 L484.6 39 L487 38.2 L490.3 40.7 L493.6 43.2 L496.9 46.5 L498.6 51.4 L500.2 58 L502.7 66.3 L505.2 72 L506.9 77 L509.9 85.8 L508.9 91.8 L507.9 94.8 L503.9 98.7 L500 102.7 L498 106.6 L500 110.6 L503.9 114.6 L505.9 119.5 L506.4 125 L506.9 129.9 L507.9 139.8 L511.9 148.7 L514.3 150.5 L517 154 L519 156.6 L517.6 160.6 L518.3 164.5 L517 168.5 L515 171.8 L512.4 175.1 L509.7 177.7 L507.1 181 L502.8 185 L499.3 189 L495.8 193.5 L494.1 195.6 L491.1 199.3 L489.6 202.3 L491.1 206 L491.9 209 L493.4 212 L494.8 215.7 L496.3 219.4 L492.6 218.6 L488.2 216.4 L483.7 214.9 L479.2 213.4 L475.5 212 L473.1 209.5 L469.1 208 L464.2 207.6 L459.2 208 L454.4 209.7 L449.5 210.5 L444.5 209.7 L439.6 210.5 L433.8 212.2 L432.1 214.7 L430.5 215.5 L428 213.8 L426.3 211.4 L424.7 209.7 L422.2 207.2 L419.8 204.8 L418.1 206.4 L414.8 207.2 L412.3 208.9 L409.9 208.9 L408.2 206.4 L406.6 204.8 L404.1 203.1 L400.8 199 L400.2 196.9 L395.9 191.5 L391.6 188.6 L388.3 188.6 L384.3 187.8 L381.3 185.6 L379.8 182.6 L377.6 180.4 L374.7 178.9 L370.9 178.2 L368 176 L365 174.5 L363.5 176 L365 179.7 L362 182.6 L359.1 184.9 L356.8 183.4 L355.4 179.7 L353.1 176.7 L350.2 174.5 L348.7 172.3 L351.7 169.3 L352.4 167.8 L350.9 166.3 L347.2 164.8 L344.2 164.8 L341.3 163.4 L338.3 162.6 L336 161.6 L331.1 158.6 L327.1 155.6 L323.1 157.6 L321.2 156.6 L322.1 152.7 L323.1 147.7 L323.1 141.7 L321.2 135.8 L318.2 129.8 L317.2 123.9 L317.8 118 L317.3 114.6 L316.5 109.6 L315.7 103 L314.9 96.4 L312.4 91.5 L310.7 88.2 L309.9 85.7 L312.4 83.2 L314 79.9 L314.9 75 L315.7 70 L314.9 65 L314.5 61.1 L314.5 55Z" fill="#d9e2cf" fill-rule="evenodd"/>
<path d="M293.3 0 L430.3 0 L429.1 17 L429.1 31.5 L426.8 33.5 L414.5 43.8 L413.4 42.7 L408.1 42.1 L402.2 40.8 L400.2 36.1 L398.9 30.9 L397.5 26.9 L393.6 25.6 L388.5 25.9 L377.9 28.6 L370 30.6 L364.7 33.2 L359.4 34.5 L354.2 39.8 L346.2 43.5 L338.3 46.8 L333.3 48.8 L328.3 50.2 L323.1 51.2 L313.8 51.5 L309.3 52.2 L293.3 52.5Z M429.1 16 L454.3 16 L452.8 20.5 L449.8 23 L445.3 22.3 L438.3 21.4 L429.1 21.8Z" fill="#a9bcdb"/>
<path d="M313.8 51.5 L323.1 51.2 L328.3 50.2 L333.3 48.8 L338.3 46.8 L346.2 43.5 L354.2 39.8 L359.4 34.5 L364.7 33.2 L370 30.6 L377.9 28.6 L388.5 25.9 L393.6 25.6 L397.5 26.9 L398.9 30.9 L400.2 36.1 L402.2 40.8 L408.1 42.1 L413.4 42.7 L416.7 44.7 L420 42.7 L425.3 40.8 L427.9 39.4 L433.2 39.4 L441.1 40.1 L448.3 40.8 L453.2 41.5 L464.8 41.5 L476.3 40.2 L484.6 39 L487 38.2 L490.3 40.7 L493.6 43.2 L496.9 46.5 L498.6 51.4 L500.2 58 L502.7 66.3 L505.2 72 L506.9 77 L509.9 85.8 L508.9 91.8 L507.9 94.8 L503.9 98.7 L500 102.7 L498 106.6 L500 110.6 L503.9 114.6 L505.9 119.5 L506.4 125 L506.9 129.9 L507.9 139.8 L511.9 148.7 L514.3 150.5 L517 154 L519 156.6 L517.6 160.6 L518.3 164.5 L517 168.5 L515 171.8 L512.4 175.1 L509.7 177.7 L507.1 181 L502.8 185 L499.3 189 L495.8 193.5 L494.1 195.6 L491.1 199.3 L489.6 202.3 L491.1 206 L491.9 209 L493.4 212 L494.8 215.7 L496.3 219.4 L492.6 218.6 L488.2 216.4 L483.7 214.9 L479.2 213.4 L475.5 212 L473.1 209.5 L469.1 208 L464.2 207.6 L459.2 208 L454.4 209.7 L449.5 210.5 L444.5 209.7 L439.6 210.5 L433.8 212.2 L432.1 214.7 L430.5 215.5 L428 213.8 L426.3 211.4 L424.7 209.7 L422.2 207.2 L419.8 204.8 L418.1 206.4 L414.8 207.2 L412.3 208.9 L409.9 208.9 L408.2 206.4 L406.6 204.8 L404.1 203.1 L400.8 199 L400.2 196.9 L395.9 191.5 L391.6 188.6 L388.3 188.6 L384.3 187.8 L381.3 185.6 L379.8 182.6 L377.6 180.4 L374.7 178.9 L370.9 178.2 L368 176 L365 174.5 L363.5 176 L365 179.7 L362 182.6 L359.1 184.9 L356.8 183.4 L355.4 179.7 L353.1 176.7 L350.2 174.5 L348.7 172.3 L351.7 169.3 L352.4 167.8 L350.9 166.3 L347.2 164.8 L344.2 164.8 L341.3 163.4 L338.3 162.6 L336 161.6 L331.1 158.6 L327.1 155.6 L323.1 157.6 L321.2 156.6 L322.1 152.7 L323.1 147.7 L323.1 141.7 L321.2 135.8 L318.2 129.8 L317.2 123.9 L317.8 118 L317.3 114.6 L316.5 109.6 L315.7 103 L314.9 96.4 L312.4 91.5 L310.7 88.2 L309.9 85.7 L312.4 83.2 L314 79.9 L314.9 75 L315.7 70 L314.9 65 L314.5 61.1 L314.5 55Z" fill="none" stroke="#333" stroke-width="0.5"/>
<path d="M487 38.2 L482.9 37.5 L482.2 30.9 L483.7 26.5 L484.4 22.2 L482.9 19.3 L480.8 17.5 M498.6 51.4 L501.3 51.8 L506 52.2 L513.3 50.6 L523.3 50 M321.2 156.6 L315.2 154.6 L311.2 151.7 L307.3 152.7 L303.3 155.6 L293.3 157 M314.3 231 L317.6 227 L318.8 222.5 L321 221.9 L324.2 221.4 L331.5 224.1 L340.6 228.6 L349.7 229.5 L352.4 227.7 L358.8 230.5 L366 227.7 L371.5 228.6 L380.6 225 L386 222.3 L389.7 215 L393.3 212.3 L398.8 207.7 L404.2 205.9 L408.2 206.4 M489.6 219.9 L486.6 224.8 L484.1 232 M508.1 130.5 L511.3 132 L515.8 130.5 L519.3 126.5 L523.3 123.5 L529.3 122.5" fill="none" stroke="#555" stroke-width="0.45"/><path d="M414.5 43.6 L418.3 40.5 L422.3 37 L426.3 33.8 L429.3 32 L433.3 30.8 L436.9 30.1 L437.1 31.4 L433.3 32.4 L430.3 34 L428.3 36.5 L425.8 39.5 L421.3 42 L417.3 44.6 L415.3 45Z M313.9 55.2 L316.3 53.6 L319.6 55.2 L320.5 58.3 L318.5 61.2 L315.5 61.3 L313.7 58.6Z" fill="#a9bcdb" stroke="#444" stroke-width="0.4"/><path d="M398.2 27.3 L400.8 28.3 L403.1 29.8 L404.5 31.2 L405.5 32.8" fill="none" stroke="#333" stroke-width="0.8"/>
<path d="M311.77 15.99 L295.74 227.91 M331.26 17.32 L318.34 229.45 M350.77 18.37 L340.96 230.66 M370.3 19.13 L363.6 231.54 M389.83 19.6 L386.25 232.09 M409.37 19.79 L408.9 232.31 M428.91 19.69 L431.56 232.19 M448.44 19.3 L454.21 231.74 M467.97 18.63 L476.85 230.96 M487.49 17.67 L499.48 229.85 M506.99 16.42 L522.09 228.41 M292.45 220.47 L298.43 220.93 L304.42 221.36 L310.4 221.77 L316.39 222.16 L322.37 222.52 L328.36 222.86 L334.35 223.17 L340.35 223.47 L346.34 223.73 L352.33 223.98 L358.33 224.2 L364.32 224.4 L370.32 224.58 L376.31 224.73 L382.31 224.86 L388.31 224.96 L394.31 225.04 L400.3 225.1 L406.3 225.14 L412.3 225.15 L418.3 225.14 L424.3 225.1 L430.29 225.04 L436.29 224.96 L442.29 224.86 L448.29 224.73 L454.28 224.58 L460.28 224.4 L466.27 224.2 L472.27 223.98 L478.26 223.73 L484.25 223.47 L490.25 223.17 L496.24 222.86 L502.23 222.52 L508.21 222.16 L514.2 221.77 L520.18 221.36 L526.17 220.93 L532.15 220.47 M295.13 186.23 L300.98 186.67 L306.83 187.1 L312.68 187.5 L318.53 187.87 L324.38 188.23 L330.24 188.56 L336.09 188.87 L341.95 189.15 L347.81 189.42 L353.67 189.66 L359.53 189.87 L365.39 190.07 L371.25 190.24 L377.12 190.39 L382.98 190.51 L388.84 190.62 L394.71 190.7 L400.57 190.75 L406.44 190.79 L412.3 190.8 L418.16 190.79 L424.03 190.75 L429.89 190.7 L435.76 190.62 L441.62 190.51 L447.48 190.39 L453.35 190.24 L459.21 190.07 L465.07 189.87 L470.93 189.66 L476.79 189.42 L482.65 189.15 L488.51 188.87 L494.36 188.56 L500.22 188.23 L506.07 187.87 L511.92 187.5 L517.77 187.1 L523.62 186.67 L529.47 186.23 M297.81 151.98 L303.52 152.42 L309.24 152.83 L314.95 153.22 L320.67 153.59 L326.39 153.94 L332.11 154.26 L337.84 154.56 L343.56 154.84 L349.28 155.1 L355.01 155.33 L360.74 155.55 L366.46 155.73 L372.19 155.9 L377.92 156.05 L383.65 156.17 L389.38 156.27 L395.11 156.35 L400.84 156.41 L406.57 156.44 L412.3 156.45 L418.03 156.44 L423.76 156.41 L429.49 156.35 L435.22 156.27 L440.95 156.17 L446.68 156.05 L452.41 155.9 L458.14 155.73 L463.86 155.55 L469.59 155.33 L475.32 155.1 L481.04 154.84 L486.76 154.56 L492.49 154.26 L498.21 153.94 L503.93 153.59 L509.65 153.22 L515.36 152.83 L521.08 152.42 L526.79 151.98 M300.48 117.74 L306.06 118.16 L311.64 118.57 L317.23 118.95 L322.81 119.31 L328.4 119.65 L333.99 119.96 L339.58 120.26 L345.17 120.53 L350.76 120.78 L356.35 121.01 L361.94 121.22 L367.53 121.4 L373.13 121.57 L378.72 121.71 L384.32 121.83 L389.91 121.93 L395.51 122 L401.11 122.06 L406.7 122.09 L412.3 122.1 L417.9 122.09 L423.49 122.06 L429.09 122 L434.69 121.93 L440.28 121.83 L445.88 121.71 L451.47 121.57 L457.07 121.4 L462.66 121.22 L468.25 121.01 L473.84 120.78 L479.43 120.53 L485.02 120.26 L490.61 119.96 L496.2 119.65 L501.79 119.31 L507.37 118.95 L512.96 118.57 L518.54 118.16 L524.12 117.74 M303.16 83.49 L308.61 83.91 L314.05 84.3 L319.5 84.67 L324.96 85.02 L330.41 85.35 L335.86 85.66 L341.32 85.95 L346.77 86.22 L352.23 86.46 L357.69 86.68 L363.15 86.89 L368.61 87.07 L374.07 87.23 L379.53 87.37 L384.99 87.48 L390.45 87.58 L395.91 87.65 L401.37 87.71 L406.84 87.74 L412.3 87.75 L417.76 87.74 L423.23 87.71 L428.69 87.65 L434.15 87.58 L439.61 87.48 L445.07 87.37 L450.53 87.23 L455.99 87.07 L461.45 86.89 L466.91 86.68 L472.37 86.46 L477.83 86.22 L483.28 85.95 L488.74 85.66 L494.19 85.35 L499.64 85.02 L505.1 84.67 L510.55 84.3 L515.99 83.91 L521.44 83.49 M305.84 49.25 L311.15 49.65 L316.46 50.03 L321.78 50.4 L327.1 50.74 L332.42 51.06 L337.74 51.36 L343.06 51.64 L348.38 51.9 L353.7 52.14 L359.03 52.36 L364.35 52.56 L369.68 52.74 L375 52.89 L380.33 53.03 L385.66 53.14 L390.99 53.23 L396.31 53.31 L401.64 53.36 L406.97 53.39 L412.3 53.4 L417.63 53.39 L422.96 53.36 L428.29 53.31 L433.61 53.23 L438.94 53.14 L444.27 53.03 L449.6 52.89 L454.92 52.74 L460.25 52.56 L465.57 52.36 L470.9 52.14 L476.22 51.9 L481.54 51.64 L486.86 51.36 L492.18 51.06 L497.5 50.74 L502.82 50.4 L508.14 50.03 L513.45 49.65 L518.76 49.25" stroke="#4a4f55" stroke-width="0.55" fill="none" opacity="0.9"/>
<g font-size="6.6" fill="#1a1a1a"><text x="386" y="35.8" transform="rotate(53.09 386 33.6)" text-anchor="middle">40</text><text x="378.5" y="64.7" transform="rotate(-34.35 378.5 62.5)" text-anchor="middle">45</text><text x="393" y="67.2" transform="rotate(-74 393 65)" text-anchor="middle">43</text><text x="337" y="60.2" transform="rotate(41.07 337 58)" text-anchor="middle">36</text><text x="330" y="69.2" transform="rotate(29.57 330 67)" text-anchor="middle">34</text><text x="327" y="81.2" transform="rotate(17.29 327 79)" text-anchor="middle">32</text><text x="334.4" y="109.5" transform="rotate(30.26 334.4 107.3)" text-anchor="middle">31</text><text x="335.6" y="126" transform="rotate(-61.55 335.6 123.8)" text-anchor="middle">31</text><text x="348" y="134.2" transform="rotate(-41.75 348 132)" text-anchor="middle">29</text><text x="376" y="90.2" transform="rotate(43.5 376 88)" text-anchor="middle">38</text><text x="382" y="144.2" transform="rotate(80.65 382 142)" text-anchor="middle">30</text><text x="377" y="156.7" transform="rotate(19.03 377 154.5)" text-anchor="middle">32</text><text x="359" y="165.8" transform="rotate(64.94 359 163.6)" text-anchor="middle">36</text><text x="402.7" y="174.9" transform="rotate(60.82 402.7 172.7)" text-anchor="middle">31</text><text x="435" y="54.2" transform="rotate(-35.04 435 52)" text-anchor="middle">42</text><text x="475" y="69.2" transform="rotate(70.5 475 67)" text-anchor="middle">43</text><text x="480" y="64.2" transform="rotate(65.5 480 62)" text-anchor="middle">44</text><text x="485" y="58.2" transform="rotate(72.24 485 56)" text-anchor="middle">45</text><text x="490" y="52.2" transform="rotate(76.56 490 50)" text-anchor="middle">46</text><text x="448" y="92.2" transform="rotate(13.01 448 90)" text-anchor="middle">44</text><text x="464" y="100.2" transform="rotate(27.69 464 98)" text-anchor="middle">43</text><text x="460" y="110.2" transform="rotate(6.93 460 108)" text-anchor="middle">42</text><text x="412.7" y="119.2" transform="rotate(68.84 412.7 117)" text-anchor="middle">39</text><text x="422.7" y="119.9" transform="rotate(40.91 422.7 117.7)" text-anchor="middle">40</text><text x="433.6" y="120.8" transform="rotate(35.03 433.6 118.6)" text-anchor="middle">41</text><text x="430" y="141.2" transform="rotate(22.92 430 139)" text-anchor="middle">36</text><text x="488" y="124.2" transform="rotate(19.94 488 122)" text-anchor="middle">43</text><text x="484" y="132.2" transform="rotate(-4.59 484 130)" text-anchor="middle">44</text><text x="479" y="139.2" transform="rotate(-32.22 479 137)" text-anchor="middle">45</text><text x="487.3" y="162.9" transform="rotate(-26.48 487.3 160.7)" text-anchor="middle">48</text><text x="419.7" y="158.6" transform="rotate(3.88 419.7 156.4)" text-anchor="middle">32</text><text x="405.5" y="174.9" transform="rotate(-1.34 405.5 172.7)" text-anchor="middle">31</text><text x="476.4" y="192.2" transform="rotate(-7.8 476.4 190)" text-anchor="middle">38</text><text x="414.5" y="203.2" transform="rotate(-43.98 414.5 201)" text-anchor="middle">36</text><text x="441.3" y="204.8" transform="rotate(76.5 441.3 202.6)" text-anchor="middle">42</text></g>
</g>
<path d="M305.64 14.11 L308.76 14.36 L311.87 14.6" stroke="#000" stroke-width="2.8" fill="none" stroke-linecap="butt"/>
<path d="M311.87 14.6 L315.12 14.84 L318.36 15.07 L321.61 15.3 L324.85 15.51 L328.1 15.72 L331.35 15.93 L334.59 16.12 L337.84 16.31 L341.09 16.48 L344.34 16.65 L347.59 16.82 L350.84 16.97" stroke="#fff" stroke-width="2.8" fill="none" stroke-linecap="butt"/>
<path d="M350.84 16.97 L354.09 17.12 L357.34 17.25 L360.59 17.38 L363.84 17.51 L367.09 17.62 L370.34 17.73 L373.59 17.83 L376.84 17.92 L380.1 18 L383.35 18.07 L386.6 18.14 L389.85 18.2" stroke="#000" stroke-width="2.8" fill="none" stroke-linecap="butt"/>
<path d="M389.85 18.2 L393.11 18.25 L396.36 18.29 L399.61 18.33 L402.87 18.36 L406.12 18.37 L409.37 18.39 L412.63 18.39 L415.88 18.38 L419.13 18.37 L422.38 18.35 L425.64 18.32 L428.89 18.29" stroke="#fff" stroke-width="2.8" fill="none" stroke-linecap="butt"/>
<path d="M428.89 18.29 L432.14 18.24 L435.4 18.19 L438.65 18.13 L441.9 18.06 L445.15 17.98 L448.41 17.9 L451.66 17.81 L454.91 17.71 L458.16 17.6 L461.41 17.48 L464.66 17.36 L467.91 17.23" stroke="#000" stroke-width="2.8" fill="none" stroke-linecap="butt"/>
<path d="M467.91 17.23 L471.16 17.09 L474.41 16.94 L477.66 16.78 L480.91 16.62 L484.16 16.45 L487.41 16.27 L490.66 16.08 L493.9 15.89 L497.15 15.68 L500.4 15.47 L503.64 15.25 L506.89 15.02" stroke="#fff" stroke-width="2.8" fill="none" stroke-linecap="butt"/>
<path d="M506.89 15.02 L510.91 14.73 L514.93 14.43 L518.96 14.11" stroke="#000" stroke-width="2.8" fill="none" stroke-linecap="butt"/>
<path d="M288.4 228.74 L292.01 229.03 L295.63 229.3" stroke="#000" stroke-width="2.8" fill="none" stroke-linecap="butt"/>
<path d="M295.63 229.3 L299.4 229.59 L303.17 229.86 L306.94 230.12 L310.71 230.37 L314.48 230.62 L318.25 230.85 L322.03 231.07 L325.8 231.29 L329.57 231.5 L333.35 231.7 L337.12 231.88 L340.9 232.06" stroke="#fff" stroke-width="2.8" fill="none" stroke-linecap="butt"/>
<path d="M340.9 232.06 L344.67 232.23 L348.45 232.39 L352.22 232.54 L356 232.69 L359.78 232.82 L363.55 232.94 L367.33 233.06 L371.11 233.16 L374.89 233.26 L378.67 233.35 L382.45 233.42 L386.22 233.49" stroke="#000" stroke-width="2.8" fill="none" stroke-linecap="butt"/>
<path d="M386.22 233.49 L390 233.55 L393.78 233.6 L397.56 233.64 L401.34 233.67 L405.12 233.69 L408.9 233.71 L412.68 233.71 L416.46 233.71 L420.24 233.69 L424.02 233.67 L427.79 233.63 L431.57 233.59" stroke="#fff" stroke-width="2.8" fill="none" stroke-linecap="butt"/>
<path d="M431.57 233.59 L435.35 233.54 L439.13 233.48 L442.91 233.41 L446.69 233.33 L450.47 233.24 L454.25 233.14 L458.02 233.04 L461.8 232.92 L465.58 232.79 L469.35 232.66 L473.13 232.51 L476.91 232.36" stroke="#000" stroke-width="2.8" fill="none" stroke-linecap="butt"/>
<path d="M476.91 232.36 L480.68 232.2 L484.46 232.03 L488.23 231.85 L492.01 231.66 L495.78 231.46 L499.56 231.25 L503.33 231.03 L507.1 230.8 L510.87 230.57 L514.64 230.32 L518.42 230.07 L522.19 229.8" stroke="#fff" stroke-width="2.8" fill="none" stroke-linecap="butt"/>
<path d="M522.19 229.8 L526.86 229.46 L531.53 229.11 L536.2 228.74" stroke="#000" stroke-width="2.8" fill="none" stroke-linecap="butt"/>
<path d="M307.15 12.83 L304.24 49.12" stroke="#fff" stroke-width="2.8" fill="none" stroke-linecap="butt"/>
<path d="M304.24 49.12 L298.73 117.6" stroke="#000" stroke-width="2.8" fill="none" stroke-linecap="butt"/>
<path d="M298.73 117.6 L293.23 186.08" stroke="#fff" stroke-width="2.8" fill="none" stroke-linecap="butt"/>
<path d="M293.23 186.08 L289.68 230.25" stroke="#000" stroke-width="2.8" fill="none" stroke-linecap="butt"/>
<path d="M517.45 12.83 L520.36 49.12" stroke="#fff" stroke-width="2.8" fill="none" stroke-linecap="butt"/>
<path d="M520.36 49.12 L525.87 117.6" stroke="#000" stroke-width="2.8" fill="none" stroke-linecap="butt"/>
<path d="M525.87 117.6 L531.37 186.08" stroke="#fff" stroke-width="2.8" fill="none" stroke-linecap="butt"/>
<path d="M531.37 186.08 L534.92 230.25" stroke="#000" stroke-width="2.8" fill="none" stroke-linecap="butt"/>
<path d="M305.76 12.71 L308.55 12.94 L308.32 15.73 L305.53 15.51Z" fill="#fff" stroke="#000" stroke-width="0.5"/>
<path d="M288.28 230.14 L291.07 230.36 L291.3 227.57 L288.51 227.35Z" fill="#fff" stroke="#000" stroke-width="0.5"/>
<path d="M518.84 12.71 L516.05 12.94 L516.28 15.73 L519.07 15.51Z" fill="#fff" stroke="#000" stroke-width="0.5"/>
<path d="M536.32 230.14 L533.53 230.36 L533.3 227.57 L536.09 227.35Z" fill="#fff" stroke="#000" stroke-width="0.5"/>
<path d="M305.76 12.71 L311.07 13.13 L316.39 13.53 L321.71 13.9 L327.03 14.25 L332.35 14.58 L337.68 14.89 L343 15.18 L348.33 15.45 L353.66 15.7 L358.99 15.92 L364.31 16.12 L369.64 16.3 L374.97 16.47 L380.31 16.6 L385.64 16.72 L390.97 16.82 L396.3 16.89 L401.63 16.95 L406.97 16.98 L412.3 16.99 L417.63 16.98 L422.97 16.95 L428.3 16.89 L433.63 16.82 L438.96 16.72 L444.29 16.6 L449.63 16.47 L454.96 16.3 L460.29 16.12 L465.61 15.92 L470.94 15.7 L476.27 15.45 L481.6 15.18 L486.92 14.89 L492.25 14.58 L497.57 14.25 L502.89 13.9 L508.21 13.53 L513.53 13.13 L518.84 12.71 L536.32 230.14 L530.13 230.62 L523.94 231.08 L517.75 231.52 L511.55 231.93 L505.36 232.31 L499.16 232.67 L492.96 233.01 L486.76 233.32 L480.56 233.61 L474.36 233.87 L468.16 234.1 L461.95 234.32 L455.75 234.5 L449.54 234.66 L443.34 234.8 L437.13 234.91 L430.92 235 L424.71 235.06 L418.51 235.1 L412.3 235.11 L406.09 235.1 L399.89 235.06 L393.68 235 L387.47 234.91 L381.26 234.8 L375.06 234.66 L368.85 234.5 L362.65 234.32 L356.44 234.1 L350.24 233.87 L344.04 233.61 L337.84 233.32 L331.64 233.01 L325.44 232.67 L319.24 232.31 L313.05 231.93 L306.85 231.52 L300.66 231.08 L294.47 230.62 L288.28 230.14Z" stroke="#000" stroke-width="0.7" fill="none"/>
<path d="M308.32 15.73 L310.86 15.92 L316.19 16.32 L321.52 16.69 L326.85 17.05 L332.19 17.38 L337.52 17.69 L342.86 17.98 L348.2 18.25 L353.53 18.49 L358.87 18.72 L364.21 18.92 L369.55 19.1 L374.9 19.26 L380.24 19.4 L385.58 19.52 L390.92 19.62 L396.27 19.69 L401.61 19.75 L406.96 19.78 L412.3 19.79 L417.64 19.78 L422.99 19.75 L428.33 19.69 L433.68 19.62 L439.02 19.52 L444.36 19.4 L449.7 19.26 L455.05 19.1 L460.39 18.92 L465.73 18.72 L471.07 18.49 L476.4 18.25 L481.74 17.98 L487.08 17.69 L492.41 17.38 L497.75 17.05 L503.08 16.69 L508.41 16.32 L513.74 15.92 L516.28 15.73 L533.3 227.57 L529.92 227.83 L523.74 228.29 L517.55 228.72 L511.37 229.13 L505.19 229.52 L499 229.88 L492.81 230.21 L486.63 230.52 L480.44 230.81 L474.25 231.07 L468.05 231.31 L461.86 231.52 L455.67 231.7 L449.47 231.86 L443.28 232 L437.08 232.11 L430.89 232.2 L424.69 232.26 L418.5 232.3 L412.3 232.31 L406.1 232.3 L399.91 232.26 L393.71 232.2 L387.52 232.11 L381.32 232 L375.13 231.86 L368.93 231.7 L362.74 231.52 L356.55 231.31 L350.35 231.07 L344.16 230.81 L337.97 230.52 L331.79 230.21 L325.6 229.88 L319.41 229.52 L313.23 229.13 L307.05 228.72 L300.86 228.29 L294.68 227.83 L291.3 227.57Z" stroke="#000" stroke-width="0.7" fill="none"/>
<g font-size="6.8" fill="#3a3a3a"><text x="312.78" y="10.9" text-anchor="middle">14°</text>
<text x="296.32" y="239.3" text-anchor="middle">14°</text>
<text x="351.7" y="13.27" text-anchor="middle">16°</text>
<text x="341.63" y="242.06" text-anchor="middle">16°</text>
<text x="390.68" y="14.5" text-anchor="middle">18°</text>
<text x="387" y="243.49" text-anchor="middle">18°</text>
<text x="429.67" y="14.59" text-anchor="middle">20°</text>
<text x="432.39" y="243.59" text-anchor="middle">20°</text>
<text x="468.66" y="13.53" text-anchor="middle">22°</text>
<text x="477.77" y="242.36" text-anchor="middle">22°</text>
<text x="507.59" y="11.33" text-anchor="middle">24°</text>
<text x="523.09" y="239.8" text-anchor="middle">24°</text>
<text x="299.64" y="51.21" text-anchor="end">54°</text>
<text x="523.76" y="51.21" text-anchor="start">54°</text>
<text x="294.14" y="119.69" text-anchor="end">52°</text>
<text x="529.26" y="119.69" text-anchor="start">52°</text>
<text x="288.63" y="188.17" text-anchor="end">50°</text>
<text x="534.77" y="188.17" text-anchor="start">50°</text></g>
<rect x="310.4" y="193.5" width="38.6" height="14" fill="#fff" stroke="#bbb" stroke-width="0.4"/><path d="M314 196.4H345.4" stroke="#999" stroke-width="2"/><path d="M314 195.3V199.6M345.4 195.3V199.6" stroke="#999" stroke-width="0.5"/><text x="329.9" y="205.6" text-anchor="middle" font-size="6.8" fill="#222">100 km</text>
<defs><linearGradient id="g29" x1="0" x2="1" y1="0" y2="0"><stop offset="0" stop-color="#800000"/><stop offset="0.05" stop-color="#b30000"/><stop offset="0.1" stop-color="#e50000"/><stop offset="0.15" stop-color="#ff1a00"/><stop offset="0.2" stop-color="#ff4c00"/><stop offset="0.25" stop-color="#ff8000"/><stop offset="0.3" stop-color="#ffb300"/><stop offset="0.35" stop-color="#ffe500"/><stop offset="0.4" stop-color="#e5ff1a"/><stop offset="0.45" stop-color="#b3ff4c"/><stop offset="0.5" stop-color="#80ff80"/><stop offset="0.55" stop-color="#4cffb3"/><stop offset="0.6" stop-color="#1affe5"/><stop offset="0.65" stop-color="#00e5ff"/><stop offset="0.7" stop-color="#00b3ff"/><stop offset="0.75" stop-color="#0080ff"/><stop offset="0.8" stop-color="#004cff"/><stop offset="0.85" stop-color="#001aff"/><stop offset="0.9" stop-color="#0000e5"/><stop offset="0.95" stop-color="#0000b3"/><stop offset="1" stop-color="#000080"/></linearGradient></defs>
<rect x="29.5" y="269.4" width="222.9" height="12.7" fill="url(#g29)"/>
<path d="M51.79 269.4V282.1M74.08 269.4V282.1M96.37 269.4V282.1M118.66 269.4V282.1M140.95 269.4V282.1M163.24 269.4V282.1M185.53 269.4V282.1M207.82 269.4V282.1M230.11 269.4V282.1" stroke="#333" stroke-width="0.5" opacity="0.7"/>
<rect x="29.5" y="269.4" width="222.9" height="12.7" fill="none" stroke="#555" stroke-width="0.3"/>
<text x="28.6" y="297.6" text-anchor="middle" font-size="10.7" fill="#3a3a3a" stroke="#3a3a3a" stroke-width="0.3">0</text>
<text x="73.6" y="297.6" text-anchor="middle" font-size="10.7" fill="#3a3a3a" stroke="#3a3a3a" stroke-width="0.3">4</text>
<text x="118.6" y="297.6" text-anchor="middle" font-size="10.7" fill="#3a3a3a" stroke="#3a3a3a" stroke-width="0.3">8</text>
<text x="163.6" y="297.6" text-anchor="middle" font-size="10.7" fill="#3a3a3a" stroke="#3a3a3a" stroke-width="0.3">12</text>
<text x="208.6" y="297.6" text-anchor="middle" font-size="10.7" fill="#3a3a3a" stroke="#3a3a3a" stroke-width="0.3">16</text>
<text x="253.6" y="297.6" text-anchor="middle" font-size="10.7" fill="#3a3a3a" stroke="#3a3a3a" stroke-width="0.3">20</text>
<text x="62.6" y="261.1" font-size="12.4" fill="#222" stroke="#222" stroke-width="0.2" textLength="159.6" lengthAdjust="spacingAndGlyphs">Thickness of sediments&#160; [ km ]</text>
<defs><linearGradient id="g303" x1="0" x2="1" y1="0" y2="0"><stop offset="0" stop-color="#800000"/><stop offset="0.05" stop-color="#b30000"/><stop offset="0.1" stop-color="#e50000"/><stop offset="0.15" stop-color="#ff1a00"/><stop offset="0.2" stop-color="#ff4c00"/><stop offset="0.25" stop-color="#ff8000"/><stop offset="0.3" stop-color="#ffb300"/><stop offset="0.35" stop-color="#ffe500"/><stop offset="0.4" stop-color="#e5ff1a"/><stop offset="0.45" stop-color="#b3ff4c"/><stop offset="0.5" stop-color="#80ff80"/><stop offset="0.55" stop-color="#4cffb3"/><stop offset="0.6" stop-color="#1affe5"/><stop offset="0.65" stop-color="#00e5ff"/><stop offset="0.7" stop-color="#00b3ff"/><stop offset="0.75" stop-color="#0080ff"/><stop offset="0.8" stop-color="#004cff"/><stop offset="0.85" stop-color="#001aff"/><stop offset="0.9" stop-color="#0000e5"/><stop offset="0.95" stop-color="#0000b3"/><stop offset="1" stop-color="#000080"/></linearGradient></defs>
<rect x="303.2" y="269.4" width="223.2" height="12.7" fill="url(#g303)"/>
<path d="M321.8 269.4V282.1M340.4 269.4V282.1M359 269.4V282.1M377.6 269.4V282.1M396.2 269.4V282.1M414.8 269.4V282.1M433.4 269.4V282.1M452 269.4V282.1M470.6 269.4V282.1M489.2 269.4V282.1M507.8 269.4V282.1" stroke="#333" stroke-width="0.5" opacity="0.7"/>
<rect x="303.2" y="269.4" width="223.2" height="12.7" fill="none" stroke="#555" stroke-width="0.3"/>
<text x="305" y="297.6" text-anchor="middle" font-size="10.7" fill="#3a3a3a" stroke="#3a3a3a" stroke-width="0.3">25</text>
<text x="341.55" y="297.6" text-anchor="middle" font-size="10.7" fill="#3a3a3a" stroke="#3a3a3a" stroke-width="0.3">30</text>
<text x="378.1" y="297.6" text-anchor="middle" font-size="10.7" fill="#3a3a3a" stroke="#3a3a3a" stroke-width="0.3">35</text>
<text x="414.65" y="297.6" text-anchor="middle" font-size="10.7" fill="#3a3a3a" stroke="#3a3a3a" stroke-width="0.3">40</text>
<text x="451.2" y="297.6" text-anchor="middle" font-size="10.7" fill="#3a3a3a" stroke="#3a3a3a" stroke-width="0.3">45</text>
<text x="487.75" y="297.6" text-anchor="middle" font-size="10.7" fill="#3a3a3a" stroke="#3a3a3a" stroke-width="0.3">50</text>
<text x="524.3" y="297.6" text-anchor="middle" font-size="10.7" fill="#3a3a3a" stroke="#3a3a3a" stroke-width="0.3">55</text>
<text x="366.8" y="261.1" font-size="12.4" fill="#222" stroke="#222" stroke-width="0.2" textLength="97.2" lengthAdjust="spacingAndGlyphs">Moho depth&#160; [ km ]</text>
<text x="9.1" y="23.3" font-size="13.5" fill="#444" stroke="#444" stroke-width="0.25">(a)</text>
<text x="282.8" y="23.3" font-size="13.5" fill="#444" stroke="#444" stroke-width="0.25">(b)</text>
</svg>
</body></html>
